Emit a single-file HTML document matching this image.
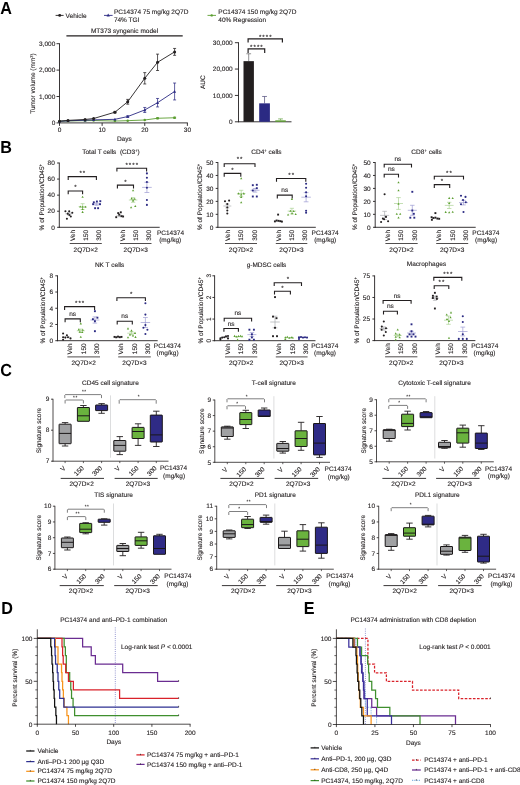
<!DOCTYPE html>
<html><head><meta charset="utf-8"><title>Figure</title>
<style>
html,body{margin:0;padding:0;background:#fff;}
svg{display:block;font-family:"Liberation Sans",sans-serif;text-rendering:geometricPrecision;}
</style></head><body>
<svg width="520" height="785" viewBox="0 0 520 785">
<rect width="520" height="785" fill="#ffffff"/>
<text transform="translate(0.30 13.90) scale(0.93 1)" font-size="17.4" font-weight="bold" fill="#000">A</text>
<line x1="55.60" y1="15.40" x2="63.60" y2="15.40" stroke="#231f20" stroke-width="0.9" />
<circle cx="59.70" cy="15.40" r="1.45" fill="#231f20"/>
<text x="65.60" y="17.70" font-size="6.5" fill="#231f20" stroke="#231f20" stroke-width="0.12" >Vehicle</text>
<line x1="104.00" y1="15.40" x2="112.60" y2="15.40" stroke="#2b2a83" stroke-width="0.9" />
<polygon points="108.20,13.60 106.60,16.48 109.80,16.48" fill="#2b2a83"/>
<text x="113.90" y="14.30" font-size="6.5" fill="#231f20" stroke="#231f20" stroke-width="0.12" >PC14374 75 mg/kg 2Q7D</text>
<text x="113.90" y="22.20" font-size="6.5" fill="#231f20" stroke="#231f20" stroke-width="0.12" >74% TGI</text>
<line x1="207.50" y1="15.40" x2="216.00" y2="15.40" stroke="#5c9e31" stroke-width="0.9" />
<circle cx="211.70" cy="15.40" r="1.2" fill="#5c9e31"/>
<text x="218.30" y="14.40" font-size="6.5" fill="#231f20" stroke="#231f20" stroke-width="0.12" >PC14374 150 mg/kg 2Q7D</text>
<text x="218.30" y="22.20" font-size="6.5" fill="#231f20" stroke="#231f20" stroke-width="0.12" >40% Regression</text>
<text x="124.50" y="32.60" font-size="6.5" fill="#231f20" text-anchor="middle" stroke="#231f20" stroke-width="0.12" >MT373 syngenic model</text>
<line x1="66.40" y1="35.80" x2="182.70" y2="35.80" stroke="#231f20" stroke-width="1.2" />
<line x1="59.50" y1="43.30" x2="59.50" y2="123.30" stroke="#231f20" stroke-width="0.9" />
<line x1="59.10" y1="122.90" x2="187.79" y2="122.90" stroke="#231f20" stroke-width="0.9" />
<line x1="56.50" y1="122.90" x2="59.50" y2="122.90" stroke="#231f20" stroke-width="0.9" />
<text x="55.30" y="125.10" font-size="6.5" fill="#231f20" text-anchor="end" stroke="#231f20" stroke-width="0.12" >0</text>
<line x1="56.50" y1="96.50" x2="59.50" y2="96.50" stroke="#231f20" stroke-width="0.9" />
<text x="55.30" y="98.70" font-size="6.5" fill="#231f20" text-anchor="end" stroke="#231f20" stroke-width="0.12" >1,000</text>
<line x1="56.50" y1="70.10" x2="59.50" y2="70.10" stroke="#231f20" stroke-width="0.9" />
<text x="55.30" y="72.30" font-size="6.5" fill="#231f20" text-anchor="end" stroke="#231f20" stroke-width="0.12" >2,000</text>
<line x1="56.50" y1="43.70" x2="59.50" y2="43.70" stroke="#231f20" stroke-width="0.9" />
<text x="55.30" y="45.90" font-size="6.5" fill="#231f20" text-anchor="end" stroke="#231f20" stroke-width="0.12" >3,000</text>
<line x1="59.50" y1="122.90" x2="59.50" y2="125.90" stroke="#231f20" stroke-width="0.9" />
<text x="59.50" y="131.50" font-size="6.5" fill="#231f20" text-anchor="middle" stroke="#231f20" stroke-width="0.12" >0</text>
<line x1="102.13" y1="122.90" x2="102.13" y2="125.90" stroke="#231f20" stroke-width="0.9" />
<text x="102.13" y="131.50" font-size="6.5" fill="#231f20" text-anchor="middle" stroke="#231f20" stroke-width="0.12" >10</text>
<line x1="144.76" y1="122.90" x2="144.76" y2="125.90" stroke="#231f20" stroke-width="0.9" />
<text x="144.76" y="131.50" font-size="6.5" fill="#231f20" text-anchor="middle" stroke="#231f20" stroke-width="0.12" >20</text>
<line x1="187.39" y1="122.90" x2="187.39" y2="125.90" stroke="#231f20" stroke-width="0.9" />
<text x="187.39" y="131.50" font-size="6.5" fill="#231f20" text-anchor="middle" stroke="#231f20" stroke-width="0.12" >30</text>
<text x="124.30" y="140.90" font-size="6.5" fill="#231f20" text-anchor="middle" stroke="#231f20" stroke-width="0.12" >Days</text>
<text x="35.00" y="83.50" font-size="6.5" fill="#231f20" text-anchor="middle" transform="rotate(-90 35.00 83.50)" stroke="#231f20" stroke-width="0.12" >Tumor volume (mm<tspan dy="-2.2" font-size="4">3</tspan><tspan dy="2.2">)</tspan></text>
<polyline points="59.50,121.32 68.03,120.92 85.08,120.66 93.60,120.52 114.92,121.05 127.71,120.66 144.76,120.00 157.55,118.28 174.60,117.75" fill="none" stroke="#5c9e31" stroke-width="0.9" />
<circle cx="59.50" cy="121.32" r="1.25" fill="#5c9e31"/>
<circle cx="68.03" cy="120.92" r="1.25" fill="#5c9e31"/>
<circle cx="85.08" cy="120.66" r="1.25" fill="#5c9e31"/>
<circle cx="93.60" cy="120.52" r="1.25" fill="#5c9e31"/>
<circle cx="114.92" cy="121.05" r="1.25" fill="#5c9e31"/>
<circle cx="127.71" cy="120.66" r="1.25" fill="#5c9e31"/>
<circle cx="144.76" cy="120.00" r="1.25" fill="#5c9e31"/>
<line x1="157.55" y1="117.75" x2="157.55" y2="118.81" stroke="#5c9e31" stroke-width="0.75" />
<line x1="156.05" y1="117.75" x2="159.05" y2="117.75" stroke="#5c9e31" stroke-width="0.75" />
<line x1="156.05" y1="118.81" x2="159.05" y2="118.81" stroke="#5c9e31" stroke-width="0.75" />
<circle cx="157.55" cy="118.28" r="1.25" fill="#5c9e31"/>
<line x1="174.60" y1="117.22" x2="174.60" y2="118.28" stroke="#5c9e31" stroke-width="0.75" />
<line x1="173.10" y1="117.22" x2="176.10" y2="117.22" stroke="#5c9e31" stroke-width="0.75" />
<line x1="173.10" y1="118.28" x2="176.10" y2="118.28" stroke="#5c9e31" stroke-width="0.75" />
<circle cx="174.60" cy="117.75" r="1.25" fill="#5c9e31"/>
<polyline points="59.50,121.32 68.03,120.79 85.08,120.26 93.60,119.86 114.92,119.34 127.71,116.56 144.76,109.96 157.55,102.70 174.60,91.48" fill="none" stroke="#2b2a83" stroke-width="0.9" />
<polygon points="59.50,119.82 58.00,122.52 61.00,122.52" fill="#2b2a83"/>
<polygon points="68.03,119.29 66.53,121.99 69.53,121.99" fill="#2b2a83"/>
<polygon points="85.08,118.76 83.58,121.46 86.58,121.46" fill="#2b2a83"/>
<polygon points="93.60,118.36 92.10,121.06 95.10,121.06" fill="#2b2a83"/>
<polygon points="114.92,117.84 113.42,120.54 116.42,120.54" fill="#2b2a83"/>
<line x1="127.71" y1="115.77" x2="127.71" y2="117.36" stroke="#2b2a83" stroke-width="0.75" />
<line x1="126.21" y1="115.77" x2="129.21" y2="115.77" stroke="#2b2a83" stroke-width="0.75" />
<line x1="126.21" y1="117.36" x2="129.21" y2="117.36" stroke="#2b2a83" stroke-width="0.75" />
<polygon points="127.71,115.06 126.21,117.76 129.21,117.76" fill="#2b2a83"/>
<line x1="144.76" y1="107.46" x2="144.76" y2="112.47" stroke="#2b2a83" stroke-width="0.75" />
<line x1="143.26" y1="107.46" x2="146.26" y2="107.46" stroke="#2b2a83" stroke-width="0.75" />
<line x1="143.26" y1="112.47" x2="146.26" y2="112.47" stroke="#2b2a83" stroke-width="0.75" />
<polygon points="144.76,108.46 143.26,111.16 146.26,111.16" fill="#2b2a83"/>
<line x1="157.55" y1="98.48" x2="157.55" y2="106.93" stroke="#2b2a83" stroke-width="0.75" />
<line x1="156.05" y1="98.48" x2="159.05" y2="98.48" stroke="#2b2a83" stroke-width="0.75" />
<line x1="156.05" y1="106.93" x2="159.05" y2="106.93" stroke="#2b2a83" stroke-width="0.75" />
<polygon points="157.55,101.20 156.05,103.90 159.05,103.90" fill="#2b2a83"/>
<line x1="174.60" y1="83.04" x2="174.60" y2="99.93" stroke="#2b2a83" stroke-width="0.75" />
<line x1="173.10" y1="83.04" x2="176.10" y2="83.04" stroke="#2b2a83" stroke-width="0.75" />
<line x1="173.10" y1="99.93" x2="176.10" y2="99.93" stroke="#2b2a83" stroke-width="0.75" />
<polygon points="174.60,89.98 173.10,92.68 176.10,92.68" fill="#2b2a83"/>
<polyline points="59.50,121.18 68.03,120.39 85.08,119.47 93.60,118.54 114.92,112.21 127.71,101.78 144.76,78.28 157.55,62.31 174.60,51.88" fill="none" stroke="#231f20" stroke-width="0.9" />
<circle cx="59.50" cy="121.18" r="1.5" fill="#231f20"/>
<circle cx="68.03" cy="120.39" r="1.5" fill="#231f20"/>
<circle cx="85.08" cy="119.47" r="1.5" fill="#231f20"/>
<circle cx="93.60" cy="118.54" r="1.5" fill="#231f20"/>
<line x1="114.92" y1="111.42" x2="114.92" y2="113.00" stroke="#231f20" stroke-width="0.75" />
<line x1="113.42" y1="111.42" x2="116.42" y2="111.42" stroke="#231f20" stroke-width="0.75" />
<line x1="113.42" y1="113.00" x2="116.42" y2="113.00" stroke="#231f20" stroke-width="0.75" />
<circle cx="114.92" cy="112.21" r="1.5" fill="#231f20"/>
<line x1="127.71" y1="99.40" x2="127.71" y2="104.16" stroke="#231f20" stroke-width="0.75" />
<line x1="126.21" y1="99.40" x2="129.21" y2="99.40" stroke="#231f20" stroke-width="0.75" />
<line x1="126.21" y1="104.16" x2="129.21" y2="104.16" stroke="#231f20" stroke-width="0.75" />
<circle cx="127.71" cy="101.78" r="1.5" fill="#231f20"/>
<line x1="144.76" y1="72.61" x2="144.76" y2="83.96" stroke="#231f20" stroke-width="0.75" />
<line x1="143.26" y1="72.61" x2="146.26" y2="72.61" stroke="#231f20" stroke-width="0.75" />
<line x1="143.26" y1="83.96" x2="146.26" y2="83.96" stroke="#231f20" stroke-width="0.75" />
<circle cx="144.76" cy="78.28" r="1.5" fill="#231f20"/>
<line x1="157.55" y1="54.13" x2="157.55" y2="70.50" stroke="#231f20" stroke-width="0.75" />
<line x1="156.05" y1="54.13" x2="159.05" y2="54.13" stroke="#231f20" stroke-width="0.75" />
<line x1="156.05" y1="70.50" x2="159.05" y2="70.50" stroke="#231f20" stroke-width="0.75" />
<circle cx="157.55" cy="62.31" r="1.5" fill="#231f20"/>
<line x1="174.60" y1="48.45" x2="174.60" y2="55.32" stroke="#231f20" stroke-width="0.75" />
<line x1="173.10" y1="48.45" x2="176.10" y2="48.45" stroke="#231f20" stroke-width="0.75" />
<line x1="173.10" y1="55.32" x2="176.10" y2="55.32" stroke="#231f20" stroke-width="0.75" />
<circle cx="174.60" cy="51.88" r="1.5" fill="#231f20"/>
<line x1="238.50" y1="42.29" x2="238.50" y2="122.20" stroke="#231f20" stroke-width="0.9" />
<line x1="238.10" y1="121.80" x2="291.50" y2="121.80" stroke="#231f20" stroke-width="0.9" />
<line x1="234.90" y1="121.80" x2="238.50" y2="121.80" stroke="#231f20" stroke-width="0.9" />
<text x="232.70" y="124.10" font-size="6.5" fill="#231f20" text-anchor="end" stroke="#231f20" stroke-width="0.12" >0</text>
<line x1="234.90" y1="95.43" x2="238.50" y2="95.43" stroke="#231f20" stroke-width="0.9" />
<text x="232.70" y="97.73" font-size="6.5" fill="#231f20" text-anchor="end" stroke="#231f20" stroke-width="0.12" >10,000</text>
<line x1="234.90" y1="69.06" x2="238.50" y2="69.06" stroke="#231f20" stroke-width="0.9" />
<text x="232.70" y="71.36" font-size="6.5" fill="#231f20" text-anchor="end" stroke="#231f20" stroke-width="0.12" >20,000</text>
<line x1="234.90" y1="42.69" x2="238.50" y2="42.69" stroke="#231f20" stroke-width="0.9" />
<text x="232.70" y="44.99" font-size="6.5" fill="#231f20" text-anchor="end" stroke="#231f20" stroke-width="0.12" >30,000</text>
<text x="205.00" y="82.20" font-size="6.5" fill="#231f20" text-anchor="middle" transform="rotate(-90 205.00 82.20)" stroke="#231f20" stroke-width="0.12" >AUC</text>
<line x1="248.70" y1="53.77" x2="248.70" y2="61.15" stroke="#6d6e70" stroke-width="0.75" />
<line x1="246.30" y1="53.77" x2="251.10" y2="53.77" stroke="#6d6e70" stroke-width="0.75" />
<rect x="243.50" y="61.15" width="10.40" height="60.65" fill="#231f20" stroke="none" stroke-width="0.5"/>
<line x1="264.55" y1="96.48" x2="264.55" y2="103.34" stroke="#55517f" stroke-width="0.75" />
<line x1="262.15" y1="96.48" x2="266.95" y2="96.48" stroke="#55517f" stroke-width="0.75" />
<rect x="259.20" y="103.34" width="10.70" height="18.46" fill="#2b2a83" stroke="none" stroke-width="0.5"/>
<line x1="280.55" y1="118.90" x2="280.55" y2="120.35" stroke="#6fa84f" stroke-width="0.75" />
<line x1="278.15" y1="118.90" x2="282.95" y2="118.90" stroke="#6fa84f" stroke-width="0.75" />
<rect x="275.30" y="120.35" width="10.50" height="1.45" fill="#5c9e31" stroke="none" stroke-width="0.5"/>
<polyline points="248.10,42.40 248.10,38.80 282.40,38.80 282.40,42.40" fill="none" stroke="#231f20" stroke-width="1.2" stroke-linejoin="miter"/>
<text x="265.77" y="38.95" font-size="6.1" font-weight="bold" fill="#231f20" text-anchor="middle" letter-spacing="1.05">****</text>
<polyline points="248.10,53.00 248.10,48.80 264.70,48.80 264.70,53.00" fill="none" stroke="#231f20" stroke-width="1.2" stroke-linejoin="miter"/>
<text x="256.92" y="48.95" font-size="6.1" font-weight="bold" fill="#231f20" text-anchor="middle" letter-spacing="1.05">****</text>
<text transform="translate(0.30 152.60) scale(0.93 1)" font-size="17.4" font-weight="bold" fill="#000">B</text>
<line x1="59.30" y1="162.55" x2="59.30" y2="227.75" stroke="#231f20" stroke-width="0.9" />
<line x1="58.85" y1="227.30" x2="159.70" y2="227.30" stroke="#231f20" stroke-width="0.9" />
<line x1="57.10" y1="227.30" x2="59.30" y2="227.30" stroke="#231f20" stroke-width="0.9" />
<text x="54.80" y="229.55" font-size="6.5" fill="#231f20" text-anchor="end" stroke="#231f20" stroke-width="0.12" >0</text>
<line x1="57.10" y1="211.23" x2="59.30" y2="211.23" stroke="#231f20" stroke-width="0.9" />
<text x="54.80" y="213.48" font-size="6.5" fill="#231f20" text-anchor="end" stroke="#231f20" stroke-width="0.12" >20</text>
<line x1="57.10" y1="195.15" x2="59.30" y2="195.15" stroke="#231f20" stroke-width="0.9" />
<text x="54.80" y="197.40" font-size="6.5" fill="#231f20" text-anchor="end" stroke="#231f20" stroke-width="0.12" >40</text>
<line x1="57.10" y1="179.07" x2="59.30" y2="179.07" stroke="#231f20" stroke-width="0.9" />
<text x="54.80" y="181.32" font-size="6.5" fill="#231f20" text-anchor="end" stroke="#231f20" stroke-width="0.12" >60</text>
<line x1="57.10" y1="163.00" x2="59.30" y2="163.00" stroke="#231f20" stroke-width="0.9" />
<text x="54.80" y="165.25" font-size="6.5" fill="#231f20" text-anchor="end" stroke="#231f20" stroke-width="0.12" >80</text>
<text x="111.00" y="153.80" font-size="6.5" fill="#231f20" text-anchor="middle" stroke="#231f20" stroke-width="0.12" >Total T cells&#160;&#160;(CD3<tspan dy="-2" font-size="4.2">+</tspan><tspan dy="2">)</tspan></text>
<text x="43.60" y="197.15" font-size="6.5" fill="#231f20" text-anchor="middle" transform="rotate(-90 43.60 197.15)" stroke="#231f20" stroke-width="0.12" >% of Population/CD45<tspan dy="-2" font-size="4.2">+</tspan></text>
<text x="74.55" y="229.90" font-size="6.5" fill="#231f20" text-anchor="end" transform="rotate(-90 74.55 229.90)" stroke="#231f20" stroke-width="0.12" >Veh</text>
<text x="87.95" y="229.90" font-size="6.5" fill="#231f20" text-anchor="end" transform="rotate(-90 87.95 229.90)" stroke="#231f20" stroke-width="0.12" >150</text>
<text x="101.45" y="229.90" font-size="6.5" fill="#231f20" text-anchor="end" transform="rotate(-90 101.45 229.90)" stroke="#231f20" stroke-width="0.12" >300</text>
<text x="125.35" y="229.90" font-size="6.5" fill="#231f20" text-anchor="end" transform="rotate(-90 125.35 229.90)" stroke="#231f20" stroke-width="0.12" >Veh</text>
<text x="137.95" y="229.90" font-size="6.5" fill="#231f20" text-anchor="end" transform="rotate(-90 137.95 229.90)" stroke="#231f20" stroke-width="0.12" >150</text>
<text x="151.15" y="229.90" font-size="6.5" fill="#231f20" text-anchor="end" transform="rotate(-90 151.15 229.90)" stroke="#231f20" stroke-width="0.12" >300</text>
<line x1="69.70" y1="243.50" x2="101.80" y2="243.50" stroke="#231f20" stroke-width="0.8" />
<line x1="120.00" y1="243.50" x2="151.50" y2="243.50" stroke="#231f20" stroke-width="0.8" />
<text x="85.75" y="251.70" font-size="6.5" fill="#231f20" text-anchor="middle" stroke="#231f20" stroke-width="0.12" >2Q7D×2</text>
<text x="135.75" y="251.70" font-size="6.5" fill="#231f20" text-anchor="middle" stroke="#231f20" stroke-width="0.12" >2Q7D×3</text>
<text x="156.90" y="234.70" font-size="6.5" fill="#231f20" stroke="#231f20" stroke-width="0.12" >PC14374</text>
<text x="159.20" y="241.50" font-size="6.5" fill="#231f20" stroke="#231f20" stroke-width="0.12" >(mg/kg)</text>
<line x1="65.30" y1="213.80" x2="72.30" y2="213.80" stroke="#a5a7aa" stroke-width="0.65" />
<line x1="68.80" y1="212.60" x2="68.80" y2="215.00" stroke="#a5a7aa" stroke-width="0.65" />
<line x1="67.05" y1="212.60" x2="70.55" y2="212.60" stroke="#a5a7aa" stroke-width="0.65" />
<line x1="67.05" y1="215.00" x2="70.55" y2="215.00" stroke="#a5a7aa" stroke-width="0.65" />
<circle cx="65.40" cy="211.20" r="1.05" fill="#231f20"/>
<circle cx="69.20" cy="211.20" r="1.05" fill="#231f20"/>
<circle cx="72.30" cy="212.80" r="1.05" fill="#231f20"/>
<circle cx="67.70" cy="213.80" r="1.05" fill="#231f20"/>
<circle cx="70.80" cy="216.50" r="1.05" fill="#231f20"/>
<circle cx="66.90" cy="218.80" r="1.05" fill="#231f20"/>
<circle cx="69.40" cy="215.00" r="1.05" fill="#231f20"/>
<line x1="78.60" y1="206.60" x2="86.60" y2="206.60" stroke="#a6cf8c" stroke-width="0.65" />
<line x1="82.60" y1="203.70" x2="82.60" y2="209.50" stroke="#a6cf8c" stroke-width="0.65" />
<line x1="80.60" y1="203.70" x2="84.60" y2="203.70" stroke="#a6cf8c" stroke-width="0.65" />
<line x1="80.60" y1="209.50" x2="84.60" y2="209.50" stroke="#a6cf8c" stroke-width="0.65" />
<polygon points="82.60,195.75 81.44,197.82 83.75,197.82" fill="#5c9e31"/>
<polygon points="80.30,205.44 79.14,207.52 81.45,207.52" fill="#5c9e31"/>
<polygon points="82.60,205.75 81.44,207.82 83.75,207.82" fill="#5c9e31"/>
<polygon points="85.40,205.75 84.24,207.82 86.55,207.82" fill="#5c9e31"/>
<polygon points="82.60,208.04 81.44,210.12 83.75,210.12" fill="#5c9e31"/>
<polygon points="82.60,210.84 81.44,212.92 83.75,212.92" fill="#5c9e31"/>
<line x1="92.60" y1="204.20" x2="100.60" y2="204.20" stroke="#9694cf" stroke-width="0.65" />
<line x1="96.60" y1="203.10" x2="96.60" y2="205.30" stroke="#9694cf" stroke-width="0.65" />
<line x1="94.60" y1="203.10" x2="98.60" y2="203.10" stroke="#9694cf" stroke-width="0.65" />
<line x1="94.60" y1="205.30" x2="98.60" y2="205.30" stroke="#9694cf" stroke-width="0.65" />
<rect x="92.86" y="201.36" width="1.89" height="1.89" fill="#2b2a83"/>
<rect x="95.95" y="200.56" width="1.89" height="1.89" fill="#2b2a83"/>
<rect x="99.36" y="200.25" width="1.89" height="1.89" fill="#2b2a83"/>
<rect x="92.16" y="203.25" width="1.89" height="1.89" fill="#2b2a83"/>
<rect x="99.06" y="203.25" width="1.89" height="1.89" fill="#2b2a83"/>
<rect x="94.16" y="207.25" width="1.89" height="1.89" fill="#2b2a83"/>
<rect x="97.16" y="207.25" width="1.89" height="1.89" fill="#2b2a83"/>
<line x1="116.20" y1="215.80" x2="123.20" y2="215.80" stroke="#a5a7aa" stroke-width="0.65" />
<line x1="119.70" y1="215.00" x2="119.70" y2="216.60" stroke="#a5a7aa" stroke-width="0.65" />
<line x1="117.95" y1="215.00" x2="121.45" y2="215.00" stroke="#a5a7aa" stroke-width="0.65" />
<line x1="117.95" y1="216.60" x2="121.45" y2="216.60" stroke="#a5a7aa" stroke-width="0.65" />
<rect x="117.26" y="212.16" width="1.89" height="1.89" fill="#231f20"/>
<rect x="119.86" y="211.36" width="1.89" height="1.89" fill="#231f20"/>
<rect x="118.26" y="213.66" width="1.89" height="1.89" fill="#231f20"/>
<rect x="115.26" y="216.25" width="1.89" height="1.89" fill="#231f20"/>
<rect x="120.56" y="215.25" width="1.89" height="1.89" fill="#231f20"/>
<rect x="122.16" y="215.56" width="1.89" height="1.89" fill="#231f20"/>
<line x1="128.85" y1="200.00" x2="137.35" y2="200.00" stroke="#a6cf8c" stroke-width="0.65" />
<line x1="133.10" y1="197.70" x2="133.10" y2="202.30" stroke="#a6cf8c" stroke-width="0.65" />
<line x1="130.97" y1="197.70" x2="135.22" y2="197.70" stroke="#a6cf8c" stroke-width="0.65" />
<line x1="130.97" y1="202.30" x2="135.22" y2="202.30" stroke="#a6cf8c" stroke-width="0.65" />
<polygon points="133.10,189.15 131.94,191.22 134.25,191.22" fill="#5c9e31"/>
<polygon points="131.60,197.34 130.44,199.42 132.75,199.42" fill="#5c9e31"/>
<polygon points="134.70,197.65 133.54,199.72 135.85,199.72" fill="#5c9e31"/>
<polygon points="133.10,199.34 131.94,201.42 134.25,201.42" fill="#5c9e31"/>
<polygon points="131.10,206.25 129.94,208.32 132.25,208.32" fill="#5c9e31"/>
<polygon points="135.30,205.04 134.14,207.12 136.45,207.12" fill="#5c9e31"/>
<line x1="142.05" y1="187.40" x2="151.75" y2="187.40" stroke="#9694cf" stroke-width="0.65" />
<line x1="146.90" y1="182.30" x2="146.90" y2="192.50" stroke="#9694cf" stroke-width="0.65" />
<line x1="144.47" y1="182.30" x2="149.33" y2="182.30" stroke="#9694cf" stroke-width="0.65" />
<line x1="144.47" y1="192.50" x2="149.33" y2="192.50" stroke="#9694cf" stroke-width="0.65" />
<circle cx="146.90" cy="173.40" r="1.05" fill="#2b2a83"/>
<circle cx="146.90" cy="177.70" r="1.05" fill="#2b2a83"/>
<circle cx="146.90" cy="182.00" r="1.05" fill="#2b2a83"/>
<circle cx="146.90" cy="187.70" r="1.05" fill="#2b2a83"/>
<circle cx="146.90" cy="200.00" r="1.05" fill="#2b2a83"/>
<circle cx="146.90" cy="204.90" r="1.05" fill="#2b2a83"/>
<polyline points="68.20,194.30 68.20,191.00 82.60,191.00 82.60,194.30" fill="none" stroke="#231f20" stroke-width="1.1" stroke-linejoin="miter"/>
<text x="75.93" y="189.45" font-size="6.1" font-weight="bold" fill="#231f20" text-anchor="middle" letter-spacing="1.05">*</text>
<polyline points="68.20,179.90 68.20,176.60 96.40,176.60 96.40,179.90" fill="none" stroke="#231f20" stroke-width="1.1" stroke-linejoin="miter"/>
<text x="82.83" y="175.05" font-size="6.1" font-weight="bold" fill="#231f20" text-anchor="middle" letter-spacing="1.05">**</text>
<polyline points="117.40,188.40 117.40,185.10 133.50,185.10 133.50,188.40" fill="none" stroke="#231f20" stroke-width="1.1" stroke-linejoin="miter"/>
<text x="125.98" y="183.55" font-size="6.1" font-weight="bold" fill="#231f20" text-anchor="middle" letter-spacing="1.05">*</text>
<polyline points="116.90,171.50 116.90,168.20 146.60,168.20 146.60,171.50" fill="none" stroke="#231f20" stroke-width="1.1" stroke-linejoin="miter"/>
<text x="132.28" y="166.65" font-size="6.1" font-weight="bold" fill="#231f20" text-anchor="middle" letter-spacing="1.05">****</text>
<line x1="217.90" y1="162.05" x2="217.90" y2="227.75" stroke="#231f20" stroke-width="0.9" />
<line x1="217.45" y1="227.30" x2="315.80" y2="227.30" stroke="#231f20" stroke-width="0.9" />
<line x1="215.70" y1="227.30" x2="217.90" y2="227.30" stroke="#231f20" stroke-width="0.9" />
<text x="213.40" y="229.55" font-size="6.5" fill="#231f20" text-anchor="end" stroke="#231f20" stroke-width="0.12" >0</text>
<line x1="215.70" y1="214.34" x2="217.90" y2="214.34" stroke="#231f20" stroke-width="0.9" />
<text x="213.40" y="216.59" font-size="6.5" fill="#231f20" text-anchor="end" stroke="#231f20" stroke-width="0.12" >10</text>
<line x1="215.70" y1="201.38" x2="217.90" y2="201.38" stroke="#231f20" stroke-width="0.9" />
<text x="213.40" y="203.63" font-size="6.5" fill="#231f20" text-anchor="end" stroke="#231f20" stroke-width="0.12" >20</text>
<line x1="215.70" y1="188.42" x2="217.90" y2="188.42" stroke="#231f20" stroke-width="0.9" />
<text x="213.40" y="190.67" font-size="6.5" fill="#231f20" text-anchor="end" stroke="#231f20" stroke-width="0.12" >30</text>
<line x1="215.70" y1="175.46" x2="217.90" y2="175.46" stroke="#231f20" stroke-width="0.9" />
<text x="213.40" y="177.71" font-size="6.5" fill="#231f20" text-anchor="end" stroke="#231f20" stroke-width="0.12" >40</text>
<line x1="215.70" y1="162.50" x2="217.90" y2="162.50" stroke="#231f20" stroke-width="0.9" />
<text x="213.40" y="164.75" font-size="6.5" fill="#231f20" text-anchor="end" stroke="#231f20" stroke-width="0.12" >50</text>
<text x="266.40" y="154.20" font-size="6.5" fill="#231f20" text-anchor="middle" stroke="#231f20" stroke-width="0.12" >CD4<tspan dy="-2" font-size="4.2">+</tspan><tspan dy="2"> cells</tspan></text>
<text x="201.70" y="196.90" font-size="6.5" fill="#231f20" text-anchor="middle" transform="rotate(-90 201.70 196.90)" stroke="#231f20" stroke-width="0.12" >% of Population/CD45<tspan dy="-2" font-size="4.2">+</tspan></text>
<text x="230.05" y="229.90" font-size="6.5" fill="#231f20" text-anchor="end" transform="rotate(-90 230.05 229.90)" stroke="#231f20" stroke-width="0.12" >Veh</text>
<text x="243.45" y="229.90" font-size="6.5" fill="#231f20" text-anchor="end" transform="rotate(-90 243.45 229.90)" stroke="#231f20" stroke-width="0.12" >150</text>
<text x="256.95" y="229.90" font-size="6.5" fill="#231f20" text-anchor="end" transform="rotate(-90 256.95 229.90)" stroke="#231f20" stroke-width="0.12" >300</text>
<text x="281.45" y="229.90" font-size="6.5" fill="#231f20" text-anchor="end" transform="rotate(-90 281.45 229.90)" stroke="#231f20" stroke-width="0.12" >Veh</text>
<text x="294.15" y="229.90" font-size="6.5" fill="#231f20" text-anchor="end" transform="rotate(-90 294.15 229.90)" stroke="#231f20" stroke-width="0.12" >150</text>
<text x="307.25" y="229.90" font-size="6.5" fill="#231f20" text-anchor="end" transform="rotate(-90 307.25 229.90)" stroke="#231f20" stroke-width="0.12" >300</text>
<line x1="225.00" y1="243.50" x2="257.00" y2="243.50" stroke="#231f20" stroke-width="0.8" />
<line x1="275.80" y1="243.50" x2="307.30" y2="243.50" stroke="#231f20" stroke-width="0.8" />
<text x="241.00" y="251.70" font-size="6.5" fill="#231f20" text-anchor="middle" stroke="#231f20" stroke-width="0.12" >2Q7D×2</text>
<text x="291.55" y="251.70" font-size="6.5" fill="#231f20" text-anchor="middle" stroke="#231f20" stroke-width="0.12" >2Q7D×3</text>
<text x="311.60" y="234.70" font-size="6.5" fill="#231f20" stroke="#231f20" stroke-width="0.12" >PC14374</text>
<text x="314.20" y="241.50" font-size="6.5" fill="#231f20" stroke="#231f20" stroke-width="0.12" >(mg/kg)</text>
<line x1="223.30" y1="206.00" x2="231.30" y2="206.00" stroke="#a5a7aa" stroke-width="0.65" />
<line x1="227.30" y1="204.10" x2="227.30" y2="207.90" stroke="#a5a7aa" stroke-width="0.65" />
<line x1="225.30" y1="204.10" x2="229.30" y2="204.10" stroke="#a5a7aa" stroke-width="0.65" />
<line x1="225.30" y1="207.90" x2="229.30" y2="207.90" stroke="#a5a7aa" stroke-width="0.65" />
<circle cx="225.00" cy="201.20" r="1.05" fill="#231f20"/>
<circle cx="229.10" cy="200.60" r="1.05" fill="#231f20"/>
<circle cx="227.30" cy="204.00" r="1.05" fill="#231f20"/>
<circle cx="227.30" cy="207.50" r="1.05" fill="#231f20"/>
<circle cx="227.30" cy="210.50" r="1.05" fill="#231f20"/>
<circle cx="227.30" cy="213.50" r="1.05" fill="#231f20"/>
<line x1="236.95" y1="193.50" x2="245.45" y2="193.50" stroke="#a6cf8c" stroke-width="0.65" />
<line x1="241.20" y1="190.30" x2="241.20" y2="196.70" stroke="#a6cf8c" stroke-width="0.65" />
<line x1="239.07" y1="190.30" x2="243.32" y2="190.30" stroke="#a6cf8c" stroke-width="0.65" />
<line x1="239.07" y1="196.70" x2="243.32" y2="196.70" stroke="#a6cf8c" stroke-width="0.65" />
<polygon points="241.20,177.15 240.04,179.22 242.35,179.22" fill="#5c9e31"/>
<polygon points="238.60,192.34 237.44,194.42 239.75,194.42" fill="#5c9e31"/>
<polygon points="243.80,192.34 242.64,194.42 244.95,194.42" fill="#5c9e31"/>
<polygon points="241.20,193.34 240.04,195.42 242.35,195.42" fill="#5c9e31"/>
<polygon points="241.20,195.84 240.04,197.92 242.35,197.92" fill="#5c9e31"/>
<polygon points="241.20,201.15 240.04,203.22 242.35,203.22" fill="#5c9e31"/>
<line x1="250.50" y1="190.30" x2="259.50" y2="190.30" stroke="#9694cf" stroke-width="0.65" />
<line x1="255.00" y1="188.50" x2="255.00" y2="192.10" stroke="#9694cf" stroke-width="0.65" />
<line x1="252.75" y1="188.50" x2="257.25" y2="188.50" stroke="#9694cf" stroke-width="0.65" />
<line x1="252.75" y1="192.10" x2="257.25" y2="192.10" stroke="#9694cf" stroke-width="0.65" />
<rect x="251.86" y="184.25" width="1.89" height="1.89" fill="#2b2a83"/>
<rect x="255.86" y="183.86" width="1.89" height="1.89" fill="#2b2a83"/>
<rect x="255.86" y="187.25" width="1.89" height="1.89" fill="#2b2a83"/>
<rect x="251.86" y="189.56" width="1.89" height="1.89" fill="#2b2a83"/>
<rect x="251.86" y="195.56" width="1.89" height="1.89" fill="#2b2a83"/>
<rect x="255.86" y="195.56" width="1.89" height="1.89" fill="#2b2a83"/>
<line x1="274.60" y1="221.00" x2="281.60" y2="221.00" stroke="#a5a7aa" stroke-width="0.65" />
<rect x="277.16" y="213.66" width="1.89" height="1.89" fill="#231f20"/>
<rect x="273.96" y="220.46" width="1.89" height="1.89" fill="#231f20"/>
<rect x="275.66" y="219.56" width="1.89" height="1.89" fill="#231f20"/>
<rect x="277.56" y="219.86" width="1.89" height="1.89" fill="#231f20"/>
<rect x="279.36" y="220.25" width="1.89" height="1.89" fill="#231f20"/>
<rect x="280.96" y="220.66" width="1.89" height="1.89" fill="#231f20"/>
<line x1="287.65" y1="211.10" x2="296.15" y2="211.10" stroke="#a6cf8c" stroke-width="0.65" />
<line x1="291.90" y1="208.30" x2="291.90" y2="213.90" stroke="#a6cf8c" stroke-width="0.65" />
<line x1="289.77" y1="208.30" x2="294.02" y2="208.30" stroke="#a6cf8c" stroke-width="0.65" />
<line x1="289.77" y1="213.90" x2="294.02" y2="213.90" stroke="#a6cf8c" stroke-width="0.65" />
<polygon points="291.90,198.04 290.75,200.12 293.05,200.12" fill="#5c9e31"/>
<polygon points="290.40,209.65 289.25,211.72 291.55,211.72" fill="#5c9e31"/>
<polygon points="293.70,210.04 292.55,212.12 294.85,212.12" fill="#5c9e31"/>
<polygon points="288.10,213.44 286.94,215.52 289.25,215.52" fill="#5c9e31"/>
<polygon points="292.10,212.25 290.94,214.32 293.25,214.32" fill="#5c9e31"/>
<polygon points="295.70,213.04 294.55,215.12 296.85,215.12" fill="#5c9e31"/>
<line x1="301.35" y1="197.20" x2="310.85" y2="197.20" stroke="#9694cf" stroke-width="0.65" />
<line x1="306.10" y1="192.60" x2="306.10" y2="201.80" stroke="#9694cf" stroke-width="0.65" />
<line x1="303.73" y1="192.60" x2="308.48" y2="192.60" stroke="#9694cf" stroke-width="0.65" />
<line x1="303.73" y1="201.80" x2="308.48" y2="201.80" stroke="#9694cf" stroke-width="0.65" />
<circle cx="306.10" cy="183.80" r="1.05" fill="#2b2a83"/>
<circle cx="306.10" cy="187.70" r="1.05" fill="#2b2a83"/>
<circle cx="306.10" cy="192.30" r="1.05" fill="#2b2a83"/>
<circle cx="306.10" cy="196.20" r="1.05" fill="#2b2a83"/>
<circle cx="306.10" cy="210.80" r="1.05" fill="#2b2a83"/>
<circle cx="306.10" cy="212.80" r="1.05" fill="#2b2a83"/>
<polyline points="224.20,176.70 224.20,173.40 240.80,173.40 240.80,176.70" fill="none" stroke="#231f20" stroke-width="1.1" stroke-linejoin="miter"/>
<text x="233.03" y="171.85" font-size="6.1" font-weight="bold" fill="#231f20" text-anchor="middle" letter-spacing="1.05">*</text>
<polyline points="224.20,167.10 224.20,163.80 255.00,163.80 255.00,167.10" fill="none" stroke="#231f20" stroke-width="1.1" stroke-linejoin="miter"/>
<text x="240.12" y="161.25" font-size="6.1" font-weight="bold" fill="#231f20" text-anchor="middle" letter-spacing="1.05">**</text>
<polyline points="277.30,198.40 277.30,195.10 292.20,195.10 292.20,198.40" fill="none" stroke="#231f20" stroke-width="1.1" stroke-linejoin="miter"/>
<text x="284.75" y="192.10" font-size="6.5" fill="#231f20" text-anchor="middle" stroke="#231f20" stroke-width="0.12" >ns</text>
<polyline points="276.50,181.80 276.50,178.50 305.80,178.50 305.80,181.80" fill="none" stroke="#231f20" stroke-width="1.1" stroke-linejoin="miter"/>
<text x="291.67" y="176.95" font-size="6.1" font-weight="bold" fill="#231f20" text-anchor="middle" letter-spacing="1.05">**</text>
<line x1="375.20" y1="162.05" x2="375.20" y2="227.75" stroke="#231f20" stroke-width="0.9" />
<line x1="374.75" y1="227.30" x2="475.70" y2="227.30" stroke="#231f20" stroke-width="0.9" />
<line x1="373.00" y1="227.30" x2="375.20" y2="227.30" stroke="#231f20" stroke-width="0.9" />
<text x="370.70" y="229.55" font-size="6.5" fill="#231f20" text-anchor="end" stroke="#231f20" stroke-width="0.12" >0</text>
<line x1="373.00" y1="214.34" x2="375.20" y2="214.34" stroke="#231f20" stroke-width="0.9" />
<text x="370.70" y="216.59" font-size="6.5" fill="#231f20" text-anchor="end" stroke="#231f20" stroke-width="0.12" >10</text>
<line x1="373.00" y1="201.38" x2="375.20" y2="201.38" stroke="#231f20" stroke-width="0.9" />
<text x="370.70" y="203.63" font-size="6.5" fill="#231f20" text-anchor="end" stroke="#231f20" stroke-width="0.12" >20</text>
<line x1="373.00" y1="188.42" x2="375.20" y2="188.42" stroke="#231f20" stroke-width="0.9" />
<text x="370.70" y="190.67" font-size="6.5" fill="#231f20" text-anchor="end" stroke="#231f20" stroke-width="0.12" >30</text>
<line x1="373.00" y1="175.46" x2="375.20" y2="175.46" stroke="#231f20" stroke-width="0.9" />
<text x="370.70" y="177.71" font-size="6.5" fill="#231f20" text-anchor="end" stroke="#231f20" stroke-width="0.12" >40</text>
<line x1="373.00" y1="162.50" x2="375.20" y2="162.50" stroke="#231f20" stroke-width="0.9" />
<text x="370.70" y="164.75" font-size="6.5" fill="#231f20" text-anchor="end" stroke="#231f20" stroke-width="0.12" >50</text>
<text x="426.50" y="154.40" font-size="6.5" fill="#231f20" text-anchor="middle" stroke="#231f20" stroke-width="0.12" >CD8<tspan dy="-2" font-size="4.2">+</tspan><tspan dy="2"> cells</tspan></text>
<text x="357.30" y="196.90" font-size="6.5" fill="#231f20" text-anchor="middle" transform="rotate(-90 357.30 196.90)" stroke="#231f20" stroke-width="0.12" >% of Population/CD45<tspan dy="-2" font-size="4.2">+</tspan></text>
<text x="389.95" y="229.90" font-size="6.5" fill="#231f20" text-anchor="end" transform="rotate(-90 389.95 229.90)" stroke="#231f20" stroke-width="0.12" >Veh</text>
<text x="403.45" y="229.90" font-size="6.5" fill="#231f20" text-anchor="end" transform="rotate(-90 403.45 229.90)" stroke="#231f20" stroke-width="0.12" >150</text>
<text x="417.15" y="229.90" font-size="6.5" fill="#231f20" text-anchor="end" transform="rotate(-90 417.15 229.90)" stroke="#231f20" stroke-width="0.12" >300</text>
<text x="441.45" y="229.90" font-size="6.5" fill="#231f20" text-anchor="end" transform="rotate(-90 441.45 229.90)" stroke="#231f20" stroke-width="0.12" >Veh</text>
<text x="454.85" y="229.90" font-size="6.5" fill="#231f20" text-anchor="end" transform="rotate(-90 454.85 229.90)" stroke="#231f20" stroke-width="0.12" >150</text>
<text x="468.05" y="229.90" font-size="6.5" fill="#231f20" text-anchor="end" transform="rotate(-90 468.05 229.90)" stroke="#231f20" stroke-width="0.12" >300</text>
<line x1="385.40" y1="243.50" x2="417.70" y2="243.50" stroke="#231f20" stroke-width="0.8" />
<line x1="436.20" y1="243.50" x2="468.20" y2="243.50" stroke="#231f20" stroke-width="0.8" />
<text x="401.55" y="251.70" font-size="6.5" fill="#231f20" text-anchor="middle" stroke="#231f20" stroke-width="0.12" >2Q7D×2</text>
<text x="452.20" y="251.70" font-size="6.5" fill="#231f20" text-anchor="middle" stroke="#231f20" stroke-width="0.12" >2Q7D×3</text>
<text x="472.30" y="234.70" font-size="6.5" fill="#231f20" stroke="#231f20" stroke-width="0.12" >PC14374</text>
<text x="475.10" y="241.50" font-size="6.5" fill="#231f20" stroke="#231f20" stroke-width="0.12" >(mg/kg)</text>
<line x1="380.00" y1="215.40" x2="389.20" y2="215.40" stroke="#a5a7aa" stroke-width="0.65" />
<line x1="384.60" y1="211.30" x2="384.60" y2="219.50" stroke="#a5a7aa" stroke-width="0.65" />
<line x1="382.30" y1="211.30" x2="386.90" y2="211.30" stroke="#a5a7aa" stroke-width="0.65" />
<line x1="382.30" y1="219.50" x2="386.90" y2="219.50" stroke="#a5a7aa" stroke-width="0.65" />
<circle cx="384.60" cy="194.30" r="1.05" fill="#231f20"/>
<circle cx="381.10" cy="222.00" r="1.05" fill="#231f20"/>
<circle cx="384.10" cy="219.20" r="1.05" fill="#231f20"/>
<circle cx="386.00" cy="216.90" r="1.05" fill="#231f20"/>
<circle cx="382.90" cy="218.50" r="1.05" fill="#231f20"/>
<circle cx="388.10" cy="221.20" r="1.05" fill="#231f20"/>
<line x1="394.00" y1="203.50" x2="403.00" y2="203.50" stroke="#a6cf8c" stroke-width="0.65" />
<line x1="398.50" y1="197.60" x2="398.50" y2="209.40" stroke="#a6cf8c" stroke-width="0.65" />
<line x1="396.25" y1="197.60" x2="400.75" y2="197.60" stroke="#a6cf8c" stroke-width="0.65" />
<line x1="396.25" y1="209.40" x2="400.75" y2="209.40" stroke="#a6cf8c" stroke-width="0.65" />
<polygon points="398.50,181.15 397.35,183.22 399.65,183.22" fill="#5c9e31"/>
<polygon points="398.50,189.15 397.35,191.22 399.65,191.22" fill="#5c9e31"/>
<polygon points="398.50,202.65 397.35,204.72 399.65,204.72" fill="#5c9e31"/>
<polygon points="396.80,212.65 395.65,214.72 397.95,214.72" fill="#5c9e31"/>
<polygon points="400.20,212.65 399.05,214.72 401.35,214.72" fill="#5c9e31"/>
<polygon points="398.50,216.54 397.35,218.62 399.65,218.62" fill="#5c9e31"/>
<line x1="407.80" y1="210.30" x2="416.80" y2="210.30" stroke="#9694cf" stroke-width="0.65" />
<line x1="412.30" y1="205.30" x2="412.30" y2="215.30" stroke="#9694cf" stroke-width="0.65" />
<line x1="410.05" y1="205.30" x2="414.55" y2="205.30" stroke="#9694cf" stroke-width="0.65" />
<line x1="410.05" y1="215.30" x2="414.55" y2="215.30" stroke="#9694cf" stroke-width="0.65" />
<rect x="411.36" y="190.86" width="1.89" height="1.89" fill="#2b2a83"/>
<rect x="411.36" y="209.56" width="1.89" height="1.89" fill="#2b2a83"/>
<rect x="412.86" y="212.86" width="1.89" height="1.89" fill="#2b2a83"/>
<rect x="409.36" y="216.75" width="1.89" height="1.89" fill="#2b2a83"/>
<rect x="413.36" y="216.75" width="1.89" height="1.89" fill="#2b2a83"/>
<line x1="431.90" y1="218.00" x2="438.90" y2="218.00" stroke="#a5a7aa" stroke-width="0.65" />
<rect x="434.45" y="212.16" width="1.89" height="1.89" fill="#231f20"/>
<rect x="430.65" y="216.25" width="1.89" height="1.89" fill="#231f20"/>
<rect x="432.45" y="217.06" width="1.89" height="1.89" fill="#231f20"/>
<rect x="434.45" y="216.66" width="1.89" height="1.89" fill="#231f20"/>
<rect x="436.45" y="217.66" width="1.89" height="1.89" fill="#231f20"/>
<rect x="438.25" y="217.86" width="1.89" height="1.89" fill="#231f20"/>
<rect x="430.95" y="218.86" width="1.89" height="1.89" fill="#231f20"/>
<line x1="444.80" y1="205.40" x2="453.60" y2="205.40" stroke="#a6cf8c" stroke-width="0.65" />
<line x1="449.20" y1="202.30" x2="449.20" y2="208.50" stroke="#a6cf8c" stroke-width="0.65" />
<line x1="447.00" y1="202.30" x2="451.40" y2="202.30" stroke="#a6cf8c" stroke-width="0.65" />
<line x1="447.00" y1="208.50" x2="451.40" y2="208.50" stroke="#a6cf8c" stroke-width="0.65" />
<polygon points="449.20,196.84 448.05,198.92 450.35,198.92" fill="#5c9e31"/>
<polygon points="452.70,197.04 451.55,199.12 453.85,199.12" fill="#5c9e31"/>
<polygon points="449.20,201.94 448.05,204.02 450.35,204.02" fill="#5c9e31"/>
<polygon points="445.70,210.84 444.55,212.92 446.85,212.92" fill="#5c9e31"/>
<polygon points="449.20,211.15 448.05,213.22 450.35,213.22" fill="#5c9e31"/>
<polygon points="452.70,210.65 451.55,212.72 453.85,212.72" fill="#5c9e31"/>
<line x1="459.00" y1="202.60" x2="468.00" y2="202.60" stroke="#9694cf" stroke-width="0.65" />
<line x1="463.50" y1="200.30" x2="463.50" y2="204.90" stroke="#9694cf" stroke-width="0.65" />
<line x1="461.25" y1="200.30" x2="465.75" y2="200.30" stroke="#9694cf" stroke-width="0.65" />
<line x1="461.25" y1="204.90" x2="465.75" y2="204.90" stroke="#9694cf" stroke-width="0.65" />
<circle cx="461.00" cy="195.70" r="1.05" fill="#2b2a83"/>
<circle cx="465.50" cy="196.90" r="1.05" fill="#2b2a83"/>
<circle cx="463.00" cy="200.00" r="1.05" fill="#2b2a83"/>
<circle cx="465.80" cy="202.30" r="1.05" fill="#2b2a83"/>
<circle cx="461.00" cy="204.20" r="1.05" fill="#2b2a83"/>
<circle cx="463.50" cy="212.00" r="1.05" fill="#2b2a83"/>
<polyline points="384.20,177.50 384.20,174.20 398.50,174.20 398.50,177.50" fill="none" stroke="#231f20" stroke-width="1.1" stroke-linejoin="miter"/>
<text x="391.35" y="171.20" font-size="6.5" fill="#231f20" text-anchor="middle" stroke="#231f20" stroke-width="0.12" >ns</text>
<polyline points="384.20,167.50 384.20,164.20 411.50,164.20 411.50,167.50" fill="none" stroke="#231f20" stroke-width="1.1" stroke-linejoin="miter"/>
<text x="397.85" y="161.20" font-size="6.5" fill="#231f20" text-anchor="middle" stroke="#231f20" stroke-width="0.12" >ns</text>
<polyline points="434.30,187.90 434.30,184.60 449.70,184.60 449.70,187.90" fill="none" stroke="#231f20" stroke-width="1.1" stroke-linejoin="miter"/>
<text x="442.52" y="183.05" font-size="6.1" font-weight="bold" fill="#231f20" text-anchor="middle" letter-spacing="1.05">*</text>
<polyline points="434.30,179.50 434.30,176.20 463.50,176.20 463.50,179.50" fill="none" stroke="#231f20" stroke-width="1.1" stroke-linejoin="miter"/>
<text x="449.42" y="174.65" font-size="6.1" font-weight="bold" fill="#231f20" text-anchor="middle" letter-spacing="1.05">**</text>
<line x1="57.50" y1="275.35" x2="57.50" y2="341.15" stroke="#231f20" stroke-width="0.9" />
<line x1="57.05" y1="340.70" x2="157.70" y2="340.70" stroke="#231f20" stroke-width="0.9" />
<line x1="55.30" y1="340.70" x2="57.50" y2="340.70" stroke="#231f20" stroke-width="0.9" />
<text x="53.00" y="342.95" font-size="6.5" fill="#231f20" text-anchor="end" stroke="#231f20" stroke-width="0.12" >0</text>
<line x1="55.30" y1="324.48" x2="57.50" y2="324.48" stroke="#231f20" stroke-width="0.9" />
<text x="53.00" y="326.73" font-size="6.5" fill="#231f20" text-anchor="end" stroke="#231f20" stroke-width="0.12" >2</text>
<line x1="55.30" y1="308.25" x2="57.50" y2="308.25" stroke="#231f20" stroke-width="0.9" />
<text x="53.00" y="310.50" font-size="6.5" fill="#231f20" text-anchor="end" stroke="#231f20" stroke-width="0.12" >4</text>
<line x1="55.30" y1="292.02" x2="57.50" y2="292.02" stroke="#231f20" stroke-width="0.9" />
<text x="53.00" y="294.27" font-size="6.5" fill="#231f20" text-anchor="end" stroke="#231f20" stroke-width="0.12" >6</text>
<line x1="55.30" y1="275.80" x2="57.50" y2="275.80" stroke="#231f20" stroke-width="0.9" />
<text x="53.00" y="278.05" font-size="6.5" fill="#231f20" text-anchor="end" stroke="#231f20" stroke-width="0.12" >8</text>
<text x="109.60" y="266.60" font-size="6.5" fill="#231f20" text-anchor="middle" stroke="#231f20" stroke-width="0.12" >NK T cells</text>
<text x="45.20" y="310.25" font-size="6.5" fill="#231f20" text-anchor="middle" transform="rotate(-90 45.20 310.25)" stroke="#231f20" stroke-width="0.12" >% of Population/CD45<tspan dy="-2" font-size="4.2">+</tspan></text>
<text x="71.95" y="343.30" font-size="6.5" fill="#231f20" text-anchor="end" transform="rotate(-90 71.95 343.30)" stroke="#231f20" stroke-width="0.12" >Veh</text>
<text x="85.75" y="343.30" font-size="6.5" fill="#231f20" text-anchor="end" transform="rotate(-90 85.75 343.30)" stroke="#231f20" stroke-width="0.12" >150</text>
<text x="99.45" y="343.30" font-size="6.5" fill="#231f20" text-anchor="end" transform="rotate(-90 99.45 343.30)" stroke="#231f20" stroke-width="0.12" >300</text>
<text x="123.05" y="343.30" font-size="6.5" fill="#231f20" text-anchor="end" transform="rotate(-90 123.05 343.30)" stroke="#231f20" stroke-width="0.12" >Veh</text>
<text x="136.85" y="343.30" font-size="6.5" fill="#231f20" text-anchor="end" transform="rotate(-90 136.85 343.30)" stroke="#231f20" stroke-width="0.12" >150</text>
<text x="150.25" y="343.30" font-size="6.5" fill="#231f20" text-anchor="end" transform="rotate(-90 150.25 343.30)" stroke="#231f20" stroke-width="0.12" >300</text>
<line x1="67.40" y1="356.90" x2="100.00" y2="356.90" stroke="#231f20" stroke-width="0.8" />
<line x1="118.20" y1="356.90" x2="150.80" y2="356.90" stroke="#231f20" stroke-width="0.8" />
<text x="83.70" y="365.10" font-size="6.5" fill="#231f20" text-anchor="middle" stroke="#231f20" stroke-width="0.12" >2Q7D×2</text>
<text x="134.50" y="365.10" font-size="6.5" fill="#231f20" text-anchor="middle" stroke="#231f20" stroke-width="0.12" >2Q7D×3</text>
<text x="153.80" y="348.10" font-size="6.5" fill="#231f20" stroke="#231f20" stroke-width="0.12" >PC14374</text>
<text x="156.60" y="354.90" font-size="6.5" fill="#231f20" stroke="#231f20" stroke-width="0.12" >(mg/kg)</text>
<line x1="63.00" y1="337.00" x2="70.00" y2="337.00" stroke="#a5a7aa" stroke-width="0.65" />
<circle cx="63.10" cy="333.50" r="1.05" fill="#231f20"/>
<circle cx="66.90" cy="335.20" r="1.05" fill="#231f20"/>
<circle cx="63.10" cy="337.20" r="1.05" fill="#231f20"/>
<circle cx="65.30" cy="337.60" r="1.05" fill="#231f20"/>
<circle cx="68.00" cy="337.20" r="1.05" fill="#231f20"/>
<circle cx="70.50" cy="338.40" r="1.05" fill="#231f20"/>
<circle cx="63.10" cy="339.80" r="1.05" fill="#231f20"/>
<line x1="76.80" y1="330.80" x2="84.80" y2="330.80" stroke="#a6cf8c" stroke-width="0.65" />
<line x1="80.80" y1="329.10" x2="80.80" y2="332.50" stroke="#a6cf8c" stroke-width="0.65" />
<line x1="78.80" y1="329.10" x2="82.80" y2="329.10" stroke="#a6cf8c" stroke-width="0.65" />
<line x1="78.80" y1="332.50" x2="82.80" y2="332.50" stroke="#a6cf8c" stroke-width="0.65" />
<polygon points="80.80,322.35 79.64,324.42 81.95,324.42" fill="#5c9e31"/>
<polygon points="78.80,328.35 77.64,330.42 79.95,330.42" fill="#5c9e31"/>
<polygon points="82.80,328.65 81.64,330.72 83.95,330.72" fill="#5c9e31"/>
<polygon points="79.80,330.65 78.64,332.72 80.95,332.72" fill="#5c9e31"/>
<polygon points="82.30,331.05 81.14,333.12 83.45,333.12" fill="#5c9e31"/>
<polygon points="80.80,335.75 79.64,337.82 81.95,337.82" fill="#5c9e31"/>
<line x1="90.40" y1="320.00" x2="99.40" y2="320.00" stroke="#9694cf" stroke-width="0.65" />
<line x1="94.90" y1="316.90" x2="94.90" y2="323.10" stroke="#9694cf" stroke-width="0.65" />
<line x1="92.65" y1="316.90" x2="97.15" y2="316.90" stroke="#9694cf" stroke-width="0.65" />
<line x1="92.65" y1="323.10" x2="97.15" y2="323.10" stroke="#9694cf" stroke-width="0.65" />
<rect x="93.96" y="310.25" width="1.89" height="1.89" fill="#2b2a83"/>
<rect x="96.46" y="316.75" width="1.89" height="1.89" fill="#2b2a83"/>
<rect x="91.96" y="318.25" width="1.89" height="1.89" fill="#2b2a83"/>
<rect x="93.96" y="320.25" width="1.89" height="1.89" fill="#2b2a83"/>
<rect x="93.96" y="330.25" width="1.89" height="1.89" fill="#2b2a83"/>
<line x1="114.50" y1="337.00" x2="121.50" y2="337.00" stroke="#a5a7aa" stroke-width="0.65" />
<rect x="113.56" y="335.95" width="1.89" height="1.89" fill="#231f20"/>
<rect x="115.26" y="336.36" width="1.89" height="1.89" fill="#231f20"/>
<rect x="117.06" y="335.66" width="1.89" height="1.89" fill="#231f20"/>
<rect x="118.86" y="336.25" width="1.89" height="1.89" fill="#231f20"/>
<rect x="120.56" y="335.95" width="1.89" height="1.89" fill="#231f20"/>
<line x1="127.25" y1="333.20" x2="135.75" y2="333.20" stroke="#a6cf8c" stroke-width="0.65" />
<line x1="131.50" y1="331.70" x2="131.50" y2="334.70" stroke="#a6cf8c" stroke-width="0.65" />
<line x1="129.38" y1="331.70" x2="133.62" y2="331.70" stroke="#a6cf8c" stroke-width="0.65" />
<line x1="129.38" y1="334.70" x2="133.62" y2="334.70" stroke="#a6cf8c" stroke-width="0.65" />
<polygon points="128.00,327.35 126.84,329.42 129.16,329.42" fill="#5c9e31"/>
<polygon points="131.50,329.35 130.34,331.42 132.66,331.42" fill="#5c9e31"/>
<polygon points="135.00,331.85 133.84,333.92 136.16,333.92" fill="#5c9e31"/>
<polygon points="130.00,333.35 128.84,335.42 131.16,335.42" fill="#5c9e31"/>
<polygon points="128.00,336.25 126.84,338.32 129.16,338.32" fill="#5c9e31"/>
<polygon points="133.00,334.35 131.84,336.42 134.16,336.42" fill="#5c9e31"/>
<polygon points="135.50,335.85 134.34,337.92 136.66,337.92" fill="#5c9e31"/>
<line x1="140.65" y1="322.50" x2="150.15" y2="322.50" stroke="#9694cf" stroke-width="0.65" />
<line x1="145.40" y1="317.50" x2="145.40" y2="327.50" stroke="#9694cf" stroke-width="0.65" />
<line x1="143.03" y1="317.50" x2="147.78" y2="317.50" stroke="#9694cf" stroke-width="0.65" />
<line x1="143.03" y1="327.50" x2="147.78" y2="327.50" stroke="#9694cf" stroke-width="0.65" />
<circle cx="145.40" cy="303.20" r="1.05" fill="#2b2a83"/>
<circle cx="145.40" cy="314.60" r="1.05" fill="#2b2a83"/>
<circle cx="145.40" cy="325.10" r="1.05" fill="#2b2a83"/>
<circle cx="143.40" cy="327.80" r="1.05" fill="#2b2a83"/>
<circle cx="147.40" cy="329.70" r="1.05" fill="#2b2a83"/>
<circle cx="145.40" cy="334.00" r="1.05" fill="#2b2a83"/>
<polyline points="65.10,322.20 65.10,318.90 80.30,318.90 80.30,322.20" fill="none" stroke="#231f20" stroke-width="1.1" stroke-linejoin="miter"/>
<text x="72.70" y="315.90" font-size="6.5" fill="#231f20" text-anchor="middle" stroke="#231f20" stroke-width="0.12" >ns</text>
<polyline points="64.60,309.90 64.60,306.60 94.60,306.60 94.60,309.90" fill="none" stroke="#231f20" stroke-width="1.1" stroke-linejoin="miter"/>
<text x="80.12" y="305.06" font-size="6.1" font-weight="bold" fill="#231f20" text-anchor="middle" letter-spacing="1.05">***</text>
<polyline points="117.20,324.50 117.20,321.20 132.30,321.20 132.30,324.50" fill="none" stroke="#231f20" stroke-width="1.1" stroke-linejoin="miter"/>
<text x="124.75" y="318.20" font-size="6.5" fill="#231f20" text-anchor="middle" stroke="#231f20" stroke-width="0.12" >ns</text>
<polyline points="116.90,301.00 116.90,297.70 145.40,297.70 145.40,301.00" fill="none" stroke="#231f20" stroke-width="1.1" stroke-linejoin="miter"/>
<text x="131.68" y="296.16" font-size="6.1" font-weight="bold" fill="#231f20" text-anchor="middle" letter-spacing="1.05">*</text>
<line x1="214.60" y1="275.35" x2="214.60" y2="341.15" stroke="#231f20" stroke-width="0.9" />
<line x1="214.15" y1="340.70" x2="315.50" y2="340.70" stroke="#231f20" stroke-width="0.9" />
<line x1="212.40" y1="340.70" x2="214.60" y2="340.70" stroke="#231f20" stroke-width="0.9" />
<text x="211.00" y="340.70" font-size="6.5" fill="#231f20" text-anchor="middle" transform="rotate(-90 211.00 340.70)" stroke="#231f20" stroke-width="0.12" >0</text>
<line x1="212.40" y1="319.07" x2="214.60" y2="319.07" stroke="#231f20" stroke-width="0.9" />
<text x="211.00" y="319.07" font-size="6.5" fill="#231f20" text-anchor="middle" transform="rotate(-90 211.00 319.07)" stroke="#231f20" stroke-width="0.12" >1</text>
<line x1="212.40" y1="297.43" x2="214.60" y2="297.43" stroke="#231f20" stroke-width="0.9" />
<text x="211.00" y="297.43" font-size="6.5" fill="#231f20" text-anchor="middle" transform="rotate(-90 211.00 297.43)" stroke="#231f20" stroke-width="0.12" >2</text>
<line x1="212.40" y1="275.80" x2="214.60" y2="275.80" stroke="#231f20" stroke-width="0.9" />
<text x="211.00" y="275.80" font-size="6.5" fill="#231f20" text-anchor="middle" transform="rotate(-90 211.00 275.80)" stroke="#231f20" stroke-width="0.12" >3</text>
<text x="266.50" y="266.60" font-size="6.5" fill="#231f20" text-anchor="middle" stroke="#231f20" stroke-width="0.12" >g-MDSC cells</text>
<text x="203.30" y="310.25" font-size="6.5" fill="#231f20" text-anchor="middle" transform="rotate(-90 203.30 310.25)" stroke="#231f20" stroke-width="0.12" >% of Population/CD45<tspan dy="-2" font-size="4.2">+</tspan></text>
<text x="230.05" y="343.30" font-size="6.5" fill="#231f20" text-anchor="end" transform="rotate(-90 230.05 343.30)" stroke="#231f20" stroke-width="0.12" >Veh</text>
<text x="243.45" y="343.30" font-size="6.5" fill="#231f20" text-anchor="end" transform="rotate(-90 243.45 343.30)" stroke="#231f20" stroke-width="0.12" >150</text>
<text x="257.25" y="343.30" font-size="6.5" fill="#231f20" text-anchor="end" transform="rotate(-90 257.25 343.30)" stroke="#231f20" stroke-width="0.12" >300</text>
<text x="281.45" y="343.30" font-size="6.5" fill="#231f20" text-anchor="end" transform="rotate(-90 281.45 343.30)" stroke="#231f20" stroke-width="0.12" >Veh</text>
<text x="294.65" y="343.30" font-size="6.5" fill="#231f20" text-anchor="end" transform="rotate(-90 294.65 343.30)" stroke="#231f20" stroke-width="0.12" >150</text>
<text x="308.05" y="343.30" font-size="6.5" fill="#231f20" text-anchor="end" transform="rotate(-90 308.05 343.30)" stroke="#231f20" stroke-width="0.12" >300</text>
<line x1="225.00" y1="356.90" x2="257.30" y2="356.90" stroke="#231f20" stroke-width="0.8" />
<line x1="275.80" y1="356.90" x2="307.60" y2="356.90" stroke="#231f20" stroke-width="0.8" />
<text x="241.15" y="365.10" font-size="6.5" fill="#231f20" text-anchor="middle" stroke="#231f20" stroke-width="0.12" >2Q7D×2</text>
<text x="291.70" y="365.10" font-size="6.5" fill="#231f20" text-anchor="middle" stroke="#231f20" stroke-width="0.12" >2Q7D×3</text>
<text x="311.20" y="348.10" font-size="6.5" fill="#231f20" stroke="#231f20" stroke-width="0.12" >PC14374</text>
<text x="314.00" y="354.90" font-size="6.5" fill="#231f20" stroke="#231f20" stroke-width="0.12" >(mg/kg)</text>
<line x1="220.70" y1="337.40" x2="227.70" y2="337.40" stroke="#a5a7aa" stroke-width="0.65" />
<circle cx="220.40" cy="338.20" r="1.05" fill="#231f20"/>
<circle cx="222.20" cy="337.60" r="1.05" fill="#231f20"/>
<circle cx="224.20" cy="337.20" r="1.05" fill="#231f20"/>
<circle cx="226.00" cy="336.40" r="1.05" fill="#231f20"/>
<circle cx="228.00" cy="336.00" r="1.05" fill="#231f20"/>
<circle cx="228.00" cy="338.40" r="1.05" fill="#231f20"/>
<circle cx="220.40" cy="339.60" r="1.05" fill="#231f20"/>
<line x1="234.60" y1="336.80" x2="241.60" y2="336.80" stroke="#a6cf8c" stroke-width="0.65" />
<polygon points="234.60,334.85 233.44,336.92 235.75,336.92" fill="#5c9e31"/>
<polygon points="236.60,335.45 235.44,337.52 237.75,337.52" fill="#5c9e31"/>
<polygon points="238.60,335.05 237.44,337.12 239.75,337.12" fill="#5c9e31"/>
<polygon points="240.60,334.65 239.44,336.72 241.75,336.72" fill="#5c9e31"/>
<polygon points="242.10,335.25 240.94,337.32 243.25,337.32" fill="#5c9e31"/>
<polygon points="237.60,338.55 236.44,340.62 238.75,340.62" fill="#5c9e31"/>
<line x1="247.40" y1="334.60" x2="256.40" y2="334.60" stroke="#9694cf" stroke-width="0.65" />
<line x1="251.90" y1="332.60" x2="251.90" y2="336.60" stroke="#9694cf" stroke-width="0.65" />
<line x1="249.65" y1="332.60" x2="254.15" y2="332.60" stroke="#9694cf" stroke-width="0.65" />
<line x1="249.65" y1="336.60" x2="254.15" y2="336.60" stroke="#9694cf" stroke-width="0.65" />
<rect x="248.46" y="328.75" width="1.89" height="1.89" fill="#2b2a83"/>
<rect x="252.96" y="328.75" width="1.89" height="1.89" fill="#2b2a83"/>
<rect x="250.96" y="333.36" width="1.89" height="1.89" fill="#2b2a83"/>
<rect x="250.96" y="336.45" width="1.89" height="1.89" fill="#2b2a83"/>
<rect x="248.46" y="338.75" width="1.89" height="1.89" fill="#2b2a83"/>
<rect x="252.96" y="338.75" width="1.89" height="1.89" fill="#2b2a83"/>
<line x1="270.25" y1="322.00" x2="279.75" y2="322.00" stroke="#a5a7aa" stroke-width="0.65" />
<line x1="275.00" y1="316.20" x2="275.00" y2="327.80" stroke="#a5a7aa" stroke-width="0.65" />
<line x1="272.62" y1="316.20" x2="277.38" y2="316.20" stroke="#a5a7aa" stroke-width="0.65" />
<line x1="272.62" y1="327.80" x2="277.38" y2="327.80" stroke="#a5a7aa" stroke-width="0.65" />
<rect x="274.06" y="296.16" width="1.89" height="1.89" fill="#231f20"/>
<rect x="272.06" y="315.66" width="1.89" height="1.89" fill="#231f20"/>
<rect x="275.56" y="317.25" width="1.89" height="1.89" fill="#231f20"/>
<rect x="274.06" y="326.86" width="1.89" height="1.89" fill="#231f20"/>
<rect x="272.06" y="335.25" width="1.89" height="1.89" fill="#231f20"/>
<rect x="276.06" y="335.25" width="1.89" height="1.89" fill="#231f20"/>
<line x1="285.30" y1="337.60" x2="292.30" y2="337.60" stroke="#a6cf8c" stroke-width="0.65" />
<polygon points="285.30,336.25 284.15,338.32 286.45,338.32" fill="#5c9e31"/>
<polygon points="287.30,335.65 286.15,337.72 288.45,337.72" fill="#5c9e31"/>
<polygon points="289.30,336.65 288.15,338.72 290.45,338.72" fill="#5c9e31"/>
<polygon points="291.30,336.25 290.15,338.32 292.45,338.32" fill="#5c9e31"/>
<polygon points="292.80,336.45 291.65,338.52 293.95,338.52" fill="#5c9e31"/>
<polygon points="285.30,338.05 284.15,340.12 286.45,340.12" fill="#5c9e31"/>
<line x1="299.50" y1="337.50" x2="306.50" y2="337.50" stroke="#9694cf" stroke-width="0.65" />
<circle cx="299.00" cy="337.40" r="1.05" fill="#2b2a83"/>
<circle cx="301.00" cy="337.00" r="1.05" fill="#2b2a83"/>
<circle cx="303.00" cy="337.60" r="1.05" fill="#2b2a83"/>
<circle cx="305.00" cy="337.20" r="1.05" fill="#2b2a83"/>
<circle cx="307.00" cy="337.60" r="1.05" fill="#2b2a83"/>
<circle cx="299.00" cy="339.00" r="1.05" fill="#2b2a83"/>
<polyline points="223.90,331.80 223.90,328.50 238.40,328.50 238.40,331.80" fill="none" stroke="#231f20" stroke-width="1.1" stroke-linejoin="miter"/>
<text x="231.15" y="325.50" font-size="6.5" fill="#231f20" text-anchor="middle" stroke="#231f20" stroke-width="0.12" >ns</text>
<polyline points="224.20,321.50 224.20,318.20 251.60,318.20 251.60,321.50" fill="none" stroke="#231f20" stroke-width="1.1" stroke-linejoin="miter"/>
<text x="237.90" y="315.20" font-size="6.5" fill="#231f20" text-anchor="middle" stroke="#231f20" stroke-width="0.12" >ns</text>
<polyline points="274.50,294.50 274.50,291.20 290.40,291.20 290.40,294.50" fill="none" stroke="#231f20" stroke-width="1.1" stroke-linejoin="miter"/>
<text x="282.97" y="289.66" font-size="6.1" font-weight="bold" fill="#231f20" text-anchor="middle" letter-spacing="1.05">*</text>
<polyline points="274.20,286.10 274.20,282.80 301.50,282.80 301.50,286.10" fill="none" stroke="#231f20" stroke-width="1.1" stroke-linejoin="miter"/>
<text x="288.38" y="281.26" font-size="6.1" font-weight="bold" fill="#231f20" text-anchor="middle" letter-spacing="1.05">*</text>
<line x1="374.60" y1="275.45" x2="374.60" y2="341.05" stroke="#231f20" stroke-width="0.9" />
<line x1="374.15" y1="340.60" x2="475.40" y2="340.60" stroke="#231f20" stroke-width="0.9" />
<line x1="372.40" y1="340.60" x2="374.60" y2="340.60" stroke="#231f20" stroke-width="0.9" />
<text x="370.10" y="342.85" font-size="6.5" fill="#231f20" text-anchor="end" stroke="#231f20" stroke-width="0.12" >0</text>
<line x1="372.40" y1="319.03" x2="374.60" y2="319.03" stroke="#231f20" stroke-width="0.9" />
<text x="370.10" y="321.28" font-size="6.5" fill="#231f20" text-anchor="end" stroke="#231f20" stroke-width="0.12" >25</text>
<line x1="372.40" y1="297.47" x2="374.60" y2="297.47" stroke="#231f20" stroke-width="0.9" />
<text x="370.10" y="299.72" font-size="6.5" fill="#231f20" text-anchor="end" stroke="#231f20" stroke-width="0.12" >50</text>
<line x1="372.40" y1="275.90" x2="374.60" y2="275.90" stroke="#231f20" stroke-width="0.9" />
<text x="370.10" y="278.15" font-size="6.5" fill="#231f20" text-anchor="end" stroke="#231f20" stroke-width="0.12" >75</text>
<text x="426.50" y="266.20" font-size="6.5" fill="#231f20" text-anchor="middle" stroke="#231f20" stroke-width="0.12" >Macrophages</text>
<text x="359.00" y="310.25" font-size="6.5" fill="#231f20" text-anchor="middle" transform="rotate(-90 359.00 310.25)" stroke="#231f20" stroke-width="0.12" >% of Population/CD45<tspan dy="-2" font-size="4.2">+</tspan></text>
<text x="389.65" y="343.20" font-size="6.5" fill="#231f20" text-anchor="end" transform="rotate(-90 389.65 343.20)" stroke="#231f20" stroke-width="0.12" >Veh</text>
<text x="403.45" y="343.20" font-size="6.5" fill="#231f20" text-anchor="end" transform="rotate(-90 403.45 343.20)" stroke="#231f20" stroke-width="0.12" >150</text>
<text x="417.15" y="343.20" font-size="6.5" fill="#231f20" text-anchor="end" transform="rotate(-90 417.15 343.20)" stroke="#231f20" stroke-width="0.12" >300</text>
<text x="439.95" y="343.20" font-size="6.5" fill="#231f20" text-anchor="end" transform="rotate(-90 439.95 343.20)" stroke="#231f20" stroke-width="0.12" >Veh</text>
<text x="453.45" y="343.20" font-size="6.5" fill="#231f20" text-anchor="end" transform="rotate(-90 453.45 343.20)" stroke="#231f20" stroke-width="0.12" >150</text>
<text x="467.15" y="343.20" font-size="6.5" fill="#231f20" text-anchor="end" transform="rotate(-90 467.15 343.20)" stroke="#231f20" stroke-width="0.12" >300</text>
<line x1="385.10" y1="356.80" x2="417.40" y2="356.80" stroke="#231f20" stroke-width="0.8" />
<line x1="435.40" y1="356.80" x2="467.40" y2="356.80" stroke="#231f20" stroke-width="0.8" />
<text x="401.25" y="365.00" font-size="6.5" fill="#231f20" text-anchor="middle" stroke="#231f20" stroke-width="0.12" >2Q7D×2</text>
<text x="451.40" y="365.00" font-size="6.5" fill="#231f20" text-anchor="middle" stroke="#231f20" stroke-width="0.12" >2Q7D×3</text>
<text x="471.20" y="348.00" font-size="6.5" fill="#231f20" stroke="#231f20" stroke-width="0.12" >PC14374</text>
<text x="473.50" y="354.80" font-size="6.5" fill="#231f20" stroke="#231f20" stroke-width="0.12" >(mg/kg)</text>
<line x1="379.55" y1="328.50" x2="388.05" y2="328.50" stroke="#a5a7aa" stroke-width="0.65" />
<line x1="383.80" y1="326.90" x2="383.80" y2="330.10" stroke="#a5a7aa" stroke-width="0.65" />
<line x1="381.68" y1="326.90" x2="385.93" y2="326.90" stroke="#a5a7aa" stroke-width="0.65" />
<line x1="381.68" y1="330.10" x2="385.93" y2="330.10" stroke="#a5a7aa" stroke-width="0.65" />
<circle cx="383.80" cy="321.50" r="1.05" fill="#231f20"/>
<circle cx="381.80" cy="326.60" r="1.05" fill="#231f20"/>
<circle cx="386.00" cy="328.20" r="1.05" fill="#231f20"/>
<circle cx="381.60" cy="329.70" r="1.05" fill="#231f20"/>
<circle cx="385.80" cy="332.00" r="1.05" fill="#231f20"/>
<circle cx="383.80" cy="335.50" r="1.05" fill="#231f20"/>
<line x1="393.70" y1="335.50" x2="401.70" y2="335.50" stroke="#a6cf8c" stroke-width="0.65" />
<line x1="397.70" y1="334.20" x2="397.70" y2="336.80" stroke="#a6cf8c" stroke-width="0.65" />
<line x1="395.70" y1="334.20" x2="399.70" y2="334.20" stroke="#a6cf8c" stroke-width="0.65" />
<line x1="395.70" y1="336.80" x2="399.70" y2="336.80" stroke="#a6cf8c" stroke-width="0.65" />
<polygon points="397.70,328.55 396.55,330.62 398.85,330.62" fill="#5c9e31"/>
<polygon points="395.70,332.35 394.55,334.42 396.85,334.42" fill="#5c9e31"/>
<polygon points="399.70,333.35 398.55,335.42 400.85,335.42" fill="#5c9e31"/>
<polygon points="395.70,335.65 394.55,337.72 396.85,337.72" fill="#5c9e31"/>
<polygon points="399.70,336.25 398.55,338.32 400.85,338.32" fill="#5c9e31"/>
<polygon points="395.70,338.55 394.55,340.62 396.85,340.62" fill="#5c9e31"/>
<line x1="407.00" y1="333.00" x2="416.00" y2="333.00" stroke="#9694cf" stroke-width="0.65" />
<line x1="411.50" y1="331.30" x2="411.50" y2="334.70" stroke="#9694cf" stroke-width="0.65" />
<line x1="409.25" y1="331.30" x2="413.75" y2="331.30" stroke="#9694cf" stroke-width="0.65" />
<line x1="409.25" y1="334.70" x2="413.75" y2="334.70" stroke="#9694cf" stroke-width="0.65" />
<rect x="410.56" y="323.36" width="1.89" height="1.89" fill="#2b2a83"/>
<rect x="410.56" y="330.25" width="1.89" height="1.89" fill="#2b2a83"/>
<rect x="408.56" y="333.36" width="1.89" height="1.89" fill="#2b2a83"/>
<rect x="412.56" y="333.36" width="1.89" height="1.89" fill="#2b2a83"/>
<rect x="406.56" y="335.66" width="1.89" height="1.89" fill="#2b2a83"/>
<rect x="410.56" y="335.66" width="1.89" height="1.89" fill="#2b2a83"/>
<rect x="414.56" y="335.66" width="1.89" height="1.89" fill="#2b2a83"/>
<line x1="430.90" y1="298.20" x2="438.90" y2="298.20" stroke="#a5a7aa" stroke-width="0.65" />
<line x1="434.90" y1="296.10" x2="434.90" y2="300.30" stroke="#a5a7aa" stroke-width="0.65" />
<line x1="432.90" y1="296.10" x2="436.90" y2="296.10" stroke="#a5a7aa" stroke-width="0.65" />
<line x1="432.90" y1="300.30" x2="436.90" y2="300.30" stroke="#a5a7aa" stroke-width="0.65" />
<rect x="433.95" y="291.86" width="1.89" height="1.89" fill="#231f20"/>
<rect x="431.95" y="294.86" width="1.89" height="1.89" fill="#231f20"/>
<rect x="435.75" y="295.66" width="1.89" height="1.89" fill="#231f20"/>
<rect x="431.95" y="297.06" width="1.89" height="1.89" fill="#231f20"/>
<rect x="435.95" y="297.95" width="1.89" height="1.89" fill="#231f20"/>
<rect x="433.95" y="307.56" width="1.89" height="1.89" fill="#231f20"/>
<line x1="444.00" y1="320.20" x2="453.00" y2="320.20" stroke="#a6cf8c" stroke-width="0.65" />
<line x1="448.50" y1="316.10" x2="448.50" y2="324.30" stroke="#a6cf8c" stroke-width="0.65" />
<line x1="446.25" y1="316.10" x2="450.75" y2="316.10" stroke="#a6cf8c" stroke-width="0.65" />
<line x1="446.25" y1="324.30" x2="450.75" y2="324.30" stroke="#a6cf8c" stroke-width="0.65" />
<polygon points="451.00,311.35 449.85,313.42 452.15,313.42" fill="#5c9e31"/>
<polygon points="446.70,313.45 445.55,315.52 447.85,315.52" fill="#5c9e31"/>
<polygon points="450.50,316.25 449.35,318.32 451.65,318.32" fill="#5c9e31"/>
<polygon points="447.00,318.05 445.85,320.12 448.15,320.12" fill="#5c9e31"/>
<polygon points="449.00,320.05 447.85,322.12 450.15,322.12" fill="#5c9e31"/>
<polygon points="449.00,336.65 447.85,338.72 450.15,338.72" fill="#5c9e31"/>
<line x1="458.05" y1="331.50" x2="467.55" y2="331.50" stroke="#9694cf" stroke-width="0.65" />
<line x1="462.80" y1="327.10" x2="462.80" y2="335.90" stroke="#9694cf" stroke-width="0.65" />
<line x1="460.43" y1="327.10" x2="465.18" y2="327.10" stroke="#9694cf" stroke-width="0.65" />
<line x1="460.43" y1="335.90" x2="465.18" y2="335.90" stroke="#9694cf" stroke-width="0.65" />
<circle cx="462.80" cy="316.20" r="1.05" fill="#2b2a83"/>
<circle cx="462.80" cy="322.00" r="1.05" fill="#2b2a83"/>
<circle cx="462.80" cy="334.30" r="1.05" fill="#2b2a83"/>
<circle cx="458.80" cy="338.90" r="1.05" fill="#2b2a83"/>
<circle cx="462.80" cy="338.90" r="1.05" fill="#2b2a83"/>
<circle cx="466.80" cy="338.90" r="1.05" fill="#2b2a83"/>
<polyline points="383.50,314.50 383.50,311.20 397.40,311.20 397.40,314.50" fill="none" stroke="#231f20" stroke-width="1.1" stroke-linejoin="miter"/>
<text x="390.45" y="308.20" font-size="6.5" fill="#231f20" text-anchor="middle" stroke="#231f20" stroke-width="0.12" >ns</text>
<polyline points="383.10,303.80 383.10,300.50 411.10,300.50 411.10,303.80" fill="none" stroke="#231f20" stroke-width="1.1" stroke-linejoin="miter"/>
<text x="397.10" y="297.50" font-size="6.5" fill="#231f20" text-anchor="middle" stroke="#231f20" stroke-width="0.12" >ns</text>
<polyline points="434.20,289.10 434.20,285.80 448.80,285.80 448.80,289.10" fill="none" stroke="#231f20" stroke-width="1.1" stroke-linejoin="miter"/>
<text x="442.02" y="284.26" font-size="6.1" font-weight="bold" fill="#231f20" text-anchor="middle" letter-spacing="1.05">**</text>
<polyline points="433.80,280.70 433.80,277.40 461.80,277.40 461.80,280.70" fill="none" stroke="#231f20" stroke-width="1.1" stroke-linejoin="miter"/>
<text x="448.32" y="275.86" font-size="6.1" font-weight="bold" fill="#231f20" text-anchor="middle" letter-spacing="1.05">***</text>
<text transform="translate(0.30 376.00) scale(0.93 1)" font-size="17.4" font-weight="bold" fill="#000">C</text>
<line x1="110.50" y1="395.40" x2="110.50" y2="457.70" stroke="#c4c6c8" stroke-width="0.6" />
<line x1="53.00" y1="398.80" x2="53.00" y2="461.60" stroke="#231f20" stroke-width="0.8" />
<line x1="52.60" y1="461.20" x2="168.50" y2="461.20" stroke="#231f20" stroke-width="0.8" />
<line x1="51.00" y1="461.20" x2="53.00" y2="461.20" stroke="#231f20" stroke-width="0.8" />
<text x="49.40" y="463.45" font-size="6.5" fill="#231f20" text-anchor="end" stroke="#231f20" stroke-width="0.12" >7</text>
<line x1="51.00" y1="430.20" x2="53.00" y2="430.20" stroke="#231f20" stroke-width="0.8" />
<text x="49.40" y="432.45" font-size="6.5" fill="#231f20" text-anchor="end" stroke="#231f20" stroke-width="0.12" >8</text>
<line x1="51.00" y1="399.20" x2="53.00" y2="399.20" stroke="#231f20" stroke-width="0.8" />
<text x="49.40" y="401.45" font-size="6.5" fill="#231f20" text-anchor="end" stroke="#231f20" stroke-width="0.12" >9</text>
<line x1="65.10" y1="461.20" x2="65.10" y2="463.10" stroke="#231f20" stroke-width="0.7" />
<text x="66.00" y="468.70" font-size="6.5" fill="#231f20" text-anchor="end" transform="rotate(-45 66.00 468.70)" stroke="#231f20" stroke-width="0.12" >V</text>
<line x1="83.40" y1="461.20" x2="83.40" y2="463.10" stroke="#231f20" stroke-width="0.7" />
<text x="84.30" y="468.70" font-size="6.5" fill="#231f20" text-anchor="end" transform="rotate(-45 84.30 468.70)" stroke="#231f20" stroke-width="0.12" >150</text>
<line x1="101.60" y1="461.20" x2="101.60" y2="463.10" stroke="#231f20" stroke-width="0.7" />
<text x="102.50" y="468.70" font-size="6.5" fill="#231f20" text-anchor="end" transform="rotate(-45 102.50 468.70)" stroke="#231f20" stroke-width="0.12" >300</text>
<line x1="119.80" y1="461.20" x2="119.80" y2="463.10" stroke="#231f20" stroke-width="0.7" />
<text x="120.70" y="468.70" font-size="6.5" fill="#231f20" text-anchor="end" transform="rotate(-45 120.70 468.70)" stroke="#231f20" stroke-width="0.12" >V</text>
<line x1="138.10" y1="461.20" x2="138.10" y2="463.10" stroke="#231f20" stroke-width="0.7" />
<text x="139.00" y="468.70" font-size="6.5" fill="#231f20" text-anchor="end" transform="rotate(-45 139.00 468.70)" stroke="#231f20" stroke-width="0.12" >150</text>
<line x1="156.30" y1="461.20" x2="156.30" y2="463.10" stroke="#231f20" stroke-width="0.7" />
<text x="157.20" y="468.70" font-size="6.5" fill="#231f20" text-anchor="end" transform="rotate(-45 157.20 468.70)" stroke="#231f20" stroke-width="0.12" >300</text>
<text x="110.40" y="384.70" font-size="6.5" fill="#231f20" text-anchor="middle" stroke="#231f20" stroke-width="0.12" >CD45 cell signature</text>
<line x1="60.70" y1="478.40" x2="104.00" y2="478.40" stroke="#231f20" stroke-width="0.9" />
<line x1="114.60" y1="478.40" x2="157.70" y2="478.40" stroke="#231f20" stroke-width="0.9" />
<text x="81.60" y="486.00" font-size="6.5" fill="#231f20" text-anchor="middle" stroke="#231f20" stroke-width="0.12" >2Q7D×2</text>
<text x="137.90" y="486.00" font-size="6.5" fill="#231f20" text-anchor="middle" stroke="#231f20" stroke-width="0.12" >2Q7D×3</text>
<text x="160.00" y="470.00" font-size="6.5" fill="#231f20" stroke="#231f20" stroke-width="0.12" >PC14374</text>
<text x="163.10" y="477.70" font-size="6.5" fill="#231f20" stroke="#231f20" stroke-width="0.12" >(mg/kg)</text>
<line x1="65.10" y1="422.60" x2="65.10" y2="424.20" stroke="#231f20" stroke-width="0.9" />
<line x1="61.90" y1="422.60" x2="68.30" y2="422.60" stroke="#231f20" stroke-width="0.9" />
<line x1="65.10" y1="443.70" x2="65.10" y2="446.00" stroke="#231f20" stroke-width="0.9" />
<line x1="61.90" y1="446.00" x2="68.30" y2="446.00" stroke="#231f20" stroke-width="0.9" />
<rect x="59.10" y="424.20" width="12.00" height="19.50" rx="0.3" fill="#a0a1a3" stroke="#1a1718" stroke-width="1.0"/>
<line x1="59.10" y1="433.40" x2="71.10" y2="433.40" stroke="#1a1718" stroke-width="1.0" />
<line x1="83.40" y1="405.50" x2="83.40" y2="407.50" stroke="#231f20" stroke-width="0.9" />
<line x1="80.20" y1="405.50" x2="86.60" y2="405.50" stroke="#231f20" stroke-width="0.9" />
<rect x="77.40" y="407.50" width="12.00" height="13.80" rx="0.3" fill="#6ab33e" stroke="#1a1718" stroke-width="1.0"/>
<line x1="77.40" y1="415.80" x2="89.40" y2="415.80" stroke="#1a1718" stroke-width="1.0" />
<line x1="101.60" y1="403.60" x2="101.60" y2="405.00" stroke="#231f20" stroke-width="0.9" />
<line x1="98.40" y1="403.60" x2="104.80" y2="403.60" stroke="#231f20" stroke-width="0.9" />
<line x1="101.60" y1="410.60" x2="101.60" y2="413.30" stroke="#231f20" stroke-width="0.9" />
<line x1="98.40" y1="413.30" x2="104.80" y2="413.30" stroke="#231f20" stroke-width="0.9" />
<rect x="95.60" y="405.00" width="12.00" height="5.60" rx="0.3" fill="#2f2b86" stroke="#1a1718" stroke-width="1.0"/>
<line x1="119.80" y1="436.60" x2="119.80" y2="440.50" stroke="#231f20" stroke-width="0.9" />
<line x1="116.60" y1="436.60" x2="123.00" y2="436.60" stroke="#231f20" stroke-width="0.9" />
<line x1="119.80" y1="451.20" x2="119.80" y2="454.60" stroke="#231f20" stroke-width="0.9" />
<line x1="116.60" y1="454.60" x2="123.00" y2="454.60" stroke="#231f20" stroke-width="0.9" />
<rect x="113.80" y="440.50" width="12.00" height="10.70" rx="0.3" fill="#a0a1a3" stroke="#1a1718" stroke-width="1.0"/>
<line x1="113.80" y1="445.40" x2="125.80" y2="445.40" stroke="#1a1718" stroke-width="1.0" />
<line x1="138.10" y1="423.80" x2="138.10" y2="427.40" stroke="#231f20" stroke-width="0.9" />
<line x1="134.90" y1="423.80" x2="141.30" y2="423.80" stroke="#231f20" stroke-width="0.9" />
<line x1="138.10" y1="438.50" x2="138.10" y2="445.40" stroke="#231f20" stroke-width="0.9" />
<line x1="134.90" y1="445.40" x2="141.30" y2="445.40" stroke="#231f20" stroke-width="0.9" />
<rect x="132.10" y="427.40" width="12.00" height="11.10" rx="0.3" fill="#6ab33e" stroke="#1a1718" stroke-width="1.0"/>
<line x1="132.10" y1="431.50" x2="144.10" y2="431.50" stroke="#1a1718" stroke-width="1.0" />
<line x1="156.30" y1="411.20" x2="156.30" y2="415.10" stroke="#231f20" stroke-width="0.9" />
<line x1="153.10" y1="411.20" x2="159.50" y2="411.20" stroke="#231f20" stroke-width="0.9" />
<line x1="156.30" y1="442.00" x2="156.30" y2="446.50" stroke="#231f20" stroke-width="0.9" />
<line x1="153.10" y1="446.50" x2="159.50" y2="446.50" stroke="#231f20" stroke-width="0.9" />
<rect x="150.30" y="415.10" width="12.00" height="26.90" rx="0.3" fill="#2f2b86" stroke="#1a1718" stroke-width="1.0"/>
<line x1="150.30" y1="434.90" x2="162.30" y2="434.90" stroke="#1a1718" stroke-width="1.0" />
<polyline points="64.80,398.10 64.80,395.20 65.40,394.60 100.90,394.60 101.50,395.20 101.50,398.10" fill="none" stroke="#3a3a3c" stroke-width="0.65" />
<text x="84.33" y="393.33" font-size="4.6" font-weight="bold" fill="#231f20" text-anchor="middle" letter-spacing="0.55">**</text>
<polyline points="65.10,403.50 65.10,400.60 65.70,400.00 82.80,400.00 83.40,400.60 83.40,403.50" fill="none" stroke="#3a3a3c" stroke-width="0.65" />
<text x="75.43" y="398.73" font-size="4.6" font-weight="bold" fill="#231f20" text-anchor="middle" letter-spacing="0.55">**</text>
<polyline points="119.20,403.70 119.20,400.30 119.80,399.70 155.60,399.70 156.20,400.30 156.20,403.70" fill="none" stroke="#3a3a3c" stroke-width="0.65" />
<text x="138.88" y="398.43" font-size="4.6" font-weight="bold" fill="#231f20" text-anchor="middle" letter-spacing="0.55">*</text>
<text x="41.30" y="430.60" font-size="6.5" fill="#231f20" text-anchor="middle" transform="rotate(-90 41.30 430.60)" stroke="#231f20" stroke-width="0.12" >Signature score</text>
<line x1="273.90" y1="396.20" x2="273.90" y2="458.50" stroke="#c4c6c8" stroke-width="0.6" />
<line x1="214.80" y1="399.60" x2="214.80" y2="462.70" stroke="#231f20" stroke-width="0.8" />
<line x1="214.40" y1="462.30" x2="330.00" y2="462.30" stroke="#231f20" stroke-width="0.8" />
<line x1="212.80" y1="462.30" x2="214.80" y2="462.30" stroke="#231f20" stroke-width="0.8" />
<text x="211.20" y="464.55" font-size="6.5" fill="#231f20" text-anchor="end" stroke="#231f20" stroke-width="0.12" >5</text>
<line x1="212.80" y1="446.73" x2="214.80" y2="446.73" stroke="#231f20" stroke-width="0.8" />
<text x="211.20" y="448.98" font-size="6.5" fill="#231f20" text-anchor="end" stroke="#231f20" stroke-width="0.12" >6</text>
<line x1="212.80" y1="431.15" x2="214.80" y2="431.15" stroke="#231f20" stroke-width="0.8" />
<text x="211.20" y="433.40" font-size="6.5" fill="#231f20" text-anchor="end" stroke="#231f20" stroke-width="0.12" >7</text>
<line x1="212.80" y1="415.57" x2="214.80" y2="415.57" stroke="#231f20" stroke-width="0.8" />
<text x="211.20" y="417.82" font-size="6.5" fill="#231f20" text-anchor="end" stroke="#231f20" stroke-width="0.12" >8</text>
<line x1="212.80" y1="400.00" x2="214.80" y2="400.00" stroke="#231f20" stroke-width="0.8" />
<text x="211.20" y="402.25" font-size="6.5" fill="#231f20" text-anchor="end" stroke="#231f20" stroke-width="0.12" >9</text>
<line x1="227.30" y1="462.30" x2="227.30" y2="464.20" stroke="#231f20" stroke-width="0.7" />
<text x="228.20" y="469.80" font-size="6.5" fill="#231f20" text-anchor="end" transform="rotate(-45 228.20 469.80)" stroke="#231f20" stroke-width="0.12" >V</text>
<line x1="245.80" y1="462.30" x2="245.80" y2="464.20" stroke="#231f20" stroke-width="0.7" />
<text x="246.70" y="469.80" font-size="6.5" fill="#231f20" text-anchor="end" transform="rotate(-45 246.70 469.80)" stroke="#231f20" stroke-width="0.12" >150</text>
<line x1="264.20" y1="462.30" x2="264.20" y2="464.20" stroke="#231f20" stroke-width="0.7" />
<text x="265.10" y="469.80" font-size="6.5" fill="#231f20" text-anchor="end" transform="rotate(-45 265.10 469.80)" stroke="#231f20" stroke-width="0.12" >300</text>
<line x1="282.80" y1="462.30" x2="282.80" y2="464.20" stroke="#231f20" stroke-width="0.7" />
<text x="283.70" y="469.80" font-size="6.5" fill="#231f20" text-anchor="end" transform="rotate(-45 283.70 469.80)" stroke="#231f20" stroke-width="0.12" >V</text>
<line x1="301.10" y1="462.30" x2="301.10" y2="464.20" stroke="#231f20" stroke-width="0.7" />
<text x="302.00" y="469.80" font-size="6.5" fill="#231f20" text-anchor="end" transform="rotate(-45 302.00 469.80)" stroke="#231f20" stroke-width="0.12" >150</text>
<line x1="319.50" y1="462.30" x2="319.50" y2="464.20" stroke="#231f20" stroke-width="0.7" />
<text x="320.40" y="469.80" font-size="6.5" fill="#231f20" text-anchor="end" transform="rotate(-45 320.40 469.80)" stroke="#231f20" stroke-width="0.12" >300</text>
<text x="273.80" y="384.70" font-size="6.5" fill="#231f20" text-anchor="middle" stroke="#231f20" stroke-width="0.12" >T-cell signature</text>
<text x="204.30" y="431.15" font-size="6.5" fill="#231f20" text-anchor="middle" transform="rotate(-90 204.30 431.15)" stroke="#231f20" stroke-width="0.12" >Signature score</text>
<line x1="220.40" y1="478.40" x2="264.20" y2="478.40" stroke="#231f20" stroke-width="0.9" />
<line x1="274.60" y1="478.40" x2="318.20" y2="478.40" stroke="#231f20" stroke-width="0.9" />
<text x="241.55" y="486.00" font-size="6.5" fill="#231f20" text-anchor="middle" stroke="#231f20" stroke-width="0.12" >2Q7D×2</text>
<text x="298.15" y="486.00" font-size="6.5" fill="#231f20" text-anchor="middle" stroke="#231f20" stroke-width="0.12" >2Q7D×3</text>
<text x="324.60" y="471.10" font-size="6.5" fill="#231f20" stroke="#231f20" stroke-width="0.12" >PC14374</text>
<text x="327.70" y="478.80" font-size="6.5" fill="#231f20" stroke="#231f20" stroke-width="0.12" >(mg/kg)</text>
<line x1="227.30" y1="426.20" x2="227.30" y2="426.90" stroke="#231f20" stroke-width="0.9" />
<line x1="224.10" y1="426.20" x2="230.50" y2="426.20" stroke="#231f20" stroke-width="0.9" />
<line x1="227.30" y1="436.50" x2="227.30" y2="439.20" stroke="#231f20" stroke-width="0.9" />
<line x1="224.10" y1="439.20" x2="230.50" y2="439.20" stroke="#231f20" stroke-width="0.9" />
<rect x="221.30" y="426.90" width="12.00" height="9.60" rx="0.3" fill="#a0a1a3" stroke="#1a1718" stroke-width="1.0"/>
<line x1="221.30" y1="428.00" x2="233.30" y2="428.00" stroke="#1a1718" stroke-width="1.0" />
<line x1="245.80" y1="410.30" x2="245.80" y2="412.60" stroke="#231f20" stroke-width="0.9" />
<line x1="242.60" y1="410.30" x2="249.00" y2="410.30" stroke="#231f20" stroke-width="0.9" />
<line x1="245.80" y1="424.60" x2="245.80" y2="428.50" stroke="#231f20" stroke-width="0.9" />
<line x1="242.60" y1="428.50" x2="249.00" y2="428.50" stroke="#231f20" stroke-width="0.9" />
<rect x="239.80" y="412.60" width="12.00" height="12.00" rx="0.3" fill="#6ab33e" stroke="#1a1718" stroke-width="1.0"/>
<line x1="239.80" y1="419.50" x2="251.80" y2="419.50" stroke="#1a1718" stroke-width="1.0" />
<line x1="264.20" y1="408.00" x2="264.20" y2="410.00" stroke="#231f20" stroke-width="0.9" />
<line x1="261.00" y1="408.00" x2="267.40" y2="408.00" stroke="#231f20" stroke-width="0.9" />
<rect x="258.20" y="410.00" width="12.00" height="6.50" rx="0.3" fill="#2f2b86" stroke="#1a1718" stroke-width="1.0"/>
<line x1="258.20" y1="416.00" x2="270.20" y2="416.00" stroke="#1a1718" stroke-width="1.0" />
<line x1="282.80" y1="441.50" x2="282.80" y2="443.40" stroke="#231f20" stroke-width="0.9" />
<line x1="279.60" y1="441.50" x2="286.00" y2="441.50" stroke="#231f20" stroke-width="0.9" />
<line x1="282.80" y1="451.20" x2="282.80" y2="453.10" stroke="#231f20" stroke-width="0.9" />
<line x1="279.60" y1="453.10" x2="286.00" y2="453.10" stroke="#231f20" stroke-width="0.9" />
<rect x="276.80" y="443.40" width="12.00" height="7.80" rx="0.3" fill="#a0a1a3" stroke="#1a1718" stroke-width="1.0"/>
<line x1="276.80" y1="448.50" x2="288.80" y2="448.50" stroke="#1a1718" stroke-width="1.0" />
<line x1="301.10" y1="422.30" x2="301.10" y2="430.80" stroke="#231f20" stroke-width="0.9" />
<line x1="297.90" y1="422.30" x2="304.30" y2="422.30" stroke="#231f20" stroke-width="0.9" />
<line x1="301.10" y1="446.50" x2="301.10" y2="450.30" stroke="#231f20" stroke-width="0.9" />
<line x1="297.90" y1="450.30" x2="304.30" y2="450.30" stroke="#231f20" stroke-width="0.9" />
<rect x="295.10" y="430.80" width="12.00" height="15.70" rx="0.3" fill="#6ab33e" stroke="#1a1718" stroke-width="1.0"/>
<line x1="295.10" y1="438.50" x2="307.10" y2="438.50" stroke="#1a1718" stroke-width="1.0" />
<line x1="319.50" y1="416.50" x2="319.50" y2="423.50" stroke="#231f20" stroke-width="0.9" />
<line x1="316.30" y1="416.50" x2="322.70" y2="416.50" stroke="#231f20" stroke-width="0.9" />
<line x1="319.50" y1="454.90" x2="319.50" y2="457.40" stroke="#231f20" stroke-width="0.9" />
<line x1="316.30" y1="457.40" x2="322.70" y2="457.40" stroke="#231f20" stroke-width="0.9" />
<rect x="313.50" y="423.50" width="12.00" height="31.40" rx="0.3" fill="#2f2b86" stroke="#1a1718" stroke-width="1.0"/>
<line x1="313.50" y1="443.10" x2="325.50" y2="443.10" stroke="#1a1718" stroke-width="1.0" />
<polyline points="227.00,402.30 227.00,399.40 227.60,398.80 263.90,398.80 264.50,399.40 264.50,402.30" fill="none" stroke="#3a3a3c" stroke-width="0.65" />
<text x="246.93" y="397.53" font-size="4.6" font-weight="bold" fill="#231f20" text-anchor="middle" letter-spacing="0.55">*</text>
<polyline points="227.00,409.30 227.00,406.40 227.60,405.80 244.90,405.80 245.50,406.40 245.50,409.30" fill="none" stroke="#3a3a3c" stroke-width="0.65" />
<text x="237.43" y="404.53" font-size="4.6" font-weight="bold" fill="#231f20" text-anchor="middle" letter-spacing="0.55">*</text>
<line x1="434.80" y1="396.20" x2="434.80" y2="458.50" stroke="#c4c6c8" stroke-width="0.6" />
<line x1="376.50" y1="399.30" x2="376.50" y2="462.20" stroke="#231f20" stroke-width="0.8" />
<line x1="376.10" y1="461.80" x2="493.80" y2="461.80" stroke="#231f20" stroke-width="0.8" />
<line x1="374.50" y1="461.80" x2="376.50" y2="461.80" stroke="#231f20" stroke-width="0.8" />
<text x="372.90" y="464.05" font-size="6.5" fill="#231f20" text-anchor="end" stroke="#231f20" stroke-width="0.12" >5</text>
<line x1="374.50" y1="446.27" x2="376.50" y2="446.27" stroke="#231f20" stroke-width="0.8" />
<text x="372.90" y="448.52" font-size="6.5" fill="#231f20" text-anchor="end" stroke="#231f20" stroke-width="0.12" >6</text>
<line x1="374.50" y1="430.75" x2="376.50" y2="430.75" stroke="#231f20" stroke-width="0.8" />
<text x="372.90" y="433.00" font-size="6.5" fill="#231f20" text-anchor="end" stroke="#231f20" stroke-width="0.12" >7</text>
<line x1="374.50" y1="415.23" x2="376.50" y2="415.23" stroke="#231f20" stroke-width="0.8" />
<text x="372.90" y="417.48" font-size="6.5" fill="#231f20" text-anchor="end" stroke="#231f20" stroke-width="0.12" >8</text>
<line x1="374.50" y1="399.70" x2="376.50" y2="399.70" stroke="#231f20" stroke-width="0.8" />
<text x="372.90" y="401.95" font-size="6.5" fill="#231f20" text-anchor="end" stroke="#231f20" stroke-width="0.12" >9</text>
<line x1="389.20" y1="461.80" x2="389.20" y2="463.70" stroke="#231f20" stroke-width="0.7" />
<text x="390.10" y="469.30" font-size="6.5" fill="#231f20" text-anchor="end" transform="rotate(-45 390.10 469.30)" stroke="#231f20" stroke-width="0.12" >V</text>
<line x1="407.60" y1="461.80" x2="407.60" y2="463.70" stroke="#231f20" stroke-width="0.7" />
<text x="408.50" y="469.30" font-size="6.5" fill="#231f20" text-anchor="end" transform="rotate(-45 408.50 469.30)" stroke="#231f20" stroke-width="0.12" >150</text>
<line x1="426.10" y1="461.80" x2="426.10" y2="463.70" stroke="#231f20" stroke-width="0.7" />
<text x="427.00" y="469.30" font-size="6.5" fill="#231f20" text-anchor="end" transform="rotate(-45 427.00 469.30)" stroke="#231f20" stroke-width="0.12" >300</text>
<line x1="444.50" y1="461.80" x2="444.50" y2="463.70" stroke="#231f20" stroke-width="0.7" />
<text x="445.40" y="469.30" font-size="6.5" fill="#231f20" text-anchor="end" transform="rotate(-45 445.40 469.30)" stroke="#231f20" stroke-width="0.12" >V</text>
<line x1="462.80" y1="461.80" x2="462.80" y2="463.70" stroke="#231f20" stroke-width="0.7" />
<text x="463.70" y="469.30" font-size="6.5" fill="#231f20" text-anchor="end" transform="rotate(-45 463.70 469.30)" stroke="#231f20" stroke-width="0.12" >150</text>
<line x1="481.30" y1="461.80" x2="481.30" y2="463.70" stroke="#231f20" stroke-width="0.7" />
<text x="482.20" y="469.30" font-size="6.5" fill="#231f20" text-anchor="end" transform="rotate(-45 482.20 469.30)" stroke="#231f20" stroke-width="0.12" >300</text>
<text x="434.60" y="384.70" font-size="6.5" fill="#231f20" text-anchor="middle" stroke="#231f20" stroke-width="0.12" >Cytotoxic T-cell signature</text>
<text x="365.70" y="430.75" font-size="6.5" fill="#231f20" text-anchor="middle" transform="rotate(-90 365.70 430.75)" stroke="#231f20" stroke-width="0.12" >Signature score</text>
<line x1="382.40" y1="478.40" x2="426.10" y2="478.40" stroke="#231f20" stroke-width="0.9" />
<line x1="436.10" y1="478.40" x2="479.60" y2="478.40" stroke="#231f20" stroke-width="0.9" />
<text x="403.50" y="486.00" font-size="6.5" fill="#231f20" text-anchor="middle" stroke="#231f20" stroke-width="0.12" >2Q7D×2</text>
<text x="459.60" y="486.00" font-size="6.5" fill="#231f20" text-anchor="middle" stroke="#231f20" stroke-width="0.12" >2Q7D×3</text>
<text x="485.00" y="470.60" font-size="6.5" fill="#231f20" stroke="#231f20" stroke-width="0.12" >PC14374</text>
<text x="487.80" y="478.30" font-size="6.5" fill="#231f20" stroke="#231f20" stroke-width="0.12" >(mg/kg)</text>
<line x1="389.20" y1="429.20" x2="389.20" y2="429.70" stroke="#231f20" stroke-width="0.9" />
<line x1="386.00" y1="429.20" x2="392.40" y2="429.20" stroke="#231f20" stroke-width="0.9" />
<line x1="389.20" y1="438.50" x2="389.20" y2="441.20" stroke="#231f20" stroke-width="0.9" />
<line x1="386.00" y1="441.20" x2="392.40" y2="441.20" stroke="#231f20" stroke-width="0.9" />
<rect x="383.20" y="429.70" width="12.00" height="8.80" rx="0.3" fill="#a0a1a3" stroke="#1a1718" stroke-width="1.0"/>
<line x1="383.20" y1="430.40" x2="395.20" y2="430.40" stroke="#1a1718" stroke-width="1.0" />
<line x1="407.60" y1="411.20" x2="407.60" y2="414.20" stroke="#231f20" stroke-width="0.9" />
<line x1="404.40" y1="411.20" x2="410.80" y2="411.20" stroke="#231f20" stroke-width="0.9" />
<line x1="407.60" y1="426.60" x2="407.60" y2="430.00" stroke="#231f20" stroke-width="0.9" />
<line x1="404.40" y1="430.00" x2="410.80" y2="430.00" stroke="#231f20" stroke-width="0.9" />
<rect x="401.60" y="414.20" width="12.00" height="12.40" rx="0.3" fill="#6ab33e" stroke="#1a1718" stroke-width="1.0"/>
<line x1="401.60" y1="423.40" x2="413.60" y2="423.40" stroke="#1a1718" stroke-width="1.0" />
<line x1="426.10" y1="411.50" x2="426.10" y2="412.60" stroke="#231f20" stroke-width="0.9" />
<line x1="422.90" y1="411.50" x2="429.30" y2="411.50" stroke="#231f20" stroke-width="0.9" />
<rect x="420.10" y="412.60" width="12.00" height="5.10" rx="0.3" fill="#2f2b86" stroke="#1a1718" stroke-width="1.0"/>
<line x1="420.10" y1="416.80" x2="432.10" y2="416.80" stroke="#1a1718" stroke-width="1.0" />
<line x1="444.50" y1="440.50" x2="444.50" y2="442.30" stroke="#231f20" stroke-width="0.9" />
<line x1="441.30" y1="440.50" x2="447.70" y2="440.50" stroke="#231f20" stroke-width="0.9" />
<line x1="444.50" y1="447.70" x2="444.50" y2="448.30" stroke="#231f20" stroke-width="0.9" />
<line x1="441.30" y1="448.30" x2="447.70" y2="448.30" stroke="#231f20" stroke-width="0.9" />
<rect x="438.50" y="442.30" width="12.00" height="5.40" rx="0.3" fill="#a0a1a3" stroke="#1a1718" stroke-width="1.0"/>
<line x1="438.50" y1="446.50" x2="450.50" y2="446.50" stroke="#1a1718" stroke-width="1.0" />
<line x1="462.80" y1="425.10" x2="462.80" y2="428.20" stroke="#231f20" stroke-width="0.9" />
<line x1="459.60" y1="425.10" x2="466.00" y2="425.10" stroke="#231f20" stroke-width="0.9" />
<line x1="462.80" y1="443.10" x2="462.80" y2="447.20" stroke="#231f20" stroke-width="0.9" />
<line x1="459.60" y1="447.20" x2="466.00" y2="447.20" stroke="#231f20" stroke-width="0.9" />
<rect x="456.80" y="428.20" width="12.00" height="14.90" rx="0.3" fill="#6ab33e" stroke="#1a1718" stroke-width="1.0"/>
<line x1="456.80" y1="432.80" x2="468.80" y2="432.80" stroke="#1a1718" stroke-width="1.0" />
<line x1="481.30" y1="425.70" x2="481.30" y2="433.10" stroke="#231f20" stroke-width="0.9" />
<line x1="478.10" y1="425.70" x2="484.50" y2="425.70" stroke="#231f20" stroke-width="0.9" />
<line x1="481.30" y1="448.50" x2="481.30" y2="449.50" stroke="#231f20" stroke-width="0.9" />
<line x1="478.10" y1="449.50" x2="484.50" y2="449.50" stroke="#231f20" stroke-width="0.9" />
<rect x="475.30" y="433.10" width="12.00" height="15.40" rx="0.3" fill="#2f2b86" stroke="#1a1718" stroke-width="1.0"/>
<line x1="475.30" y1="443.10" x2="487.30" y2="443.10" stroke="#1a1718" stroke-width="1.0" />
<polyline points="388.80,402.30 388.80,399.40 389.40,398.80 425.50,398.80 426.10,399.40 426.10,402.30" fill="none" stroke="#3a3a3c" stroke-width="0.65" />
<text x="408.62" y="397.53" font-size="4.6" font-weight="bold" fill="#231f20" text-anchor="middle" letter-spacing="0.55">**</text>
<polyline points="388.80,408.90 388.80,406.00 389.40,405.40 407.00,405.40 407.60,406.00 407.60,408.90" fill="none" stroke="#3a3a3c" stroke-width="0.65" />
<text x="399.38" y="404.13" font-size="4.6" font-weight="bold" fill="#231f20" text-anchor="middle" letter-spacing="0.55">*</text>
<line x1="113.50" y1="503.50" x2="113.50" y2="565.40" stroke="#c4c6c8" stroke-width="0.6" />
<line x1="54.90" y1="505.80" x2="54.90" y2="569.60" stroke="#231f20" stroke-width="0.8" />
<line x1="54.50" y1="569.20" x2="171.50" y2="569.20" stroke="#231f20" stroke-width="0.8" />
<line x1="52.90" y1="569.20" x2="54.90" y2="569.20" stroke="#231f20" stroke-width="0.8" />
<text x="51.30" y="571.45" font-size="6.5" fill="#231f20" text-anchor="end" stroke="#231f20" stroke-width="0.12" >6</text>
<line x1="52.90" y1="553.45" x2="54.90" y2="553.45" stroke="#231f20" stroke-width="0.8" />
<text x="51.30" y="555.70" font-size="6.5" fill="#231f20" text-anchor="end" stroke="#231f20" stroke-width="0.12" >7</text>
<line x1="52.90" y1="537.70" x2="54.90" y2="537.70" stroke="#231f20" stroke-width="0.8" />
<text x="51.30" y="539.95" font-size="6.5" fill="#231f20" text-anchor="end" stroke="#231f20" stroke-width="0.12" >8</text>
<line x1="52.90" y1="521.95" x2="54.90" y2="521.95" stroke="#231f20" stroke-width="0.8" />
<text x="51.30" y="524.20" font-size="6.5" fill="#231f20" text-anchor="end" stroke="#231f20" stroke-width="0.12" >9</text>
<line x1="52.90" y1="506.20" x2="54.90" y2="506.20" stroke="#231f20" stroke-width="0.8" />
<text x="51.30" y="508.45" font-size="6.5" fill="#231f20" text-anchor="end" stroke="#231f20" stroke-width="0.12" >10</text>
<line x1="67.40" y1="569.20" x2="67.40" y2="571.10" stroke="#231f20" stroke-width="0.7" />
<text x="68.30" y="576.70" font-size="6.5" fill="#231f20" text-anchor="end" transform="rotate(-45 68.30 576.70)" stroke="#231f20" stroke-width="0.12" >V</text>
<line x1="85.70" y1="569.20" x2="85.70" y2="571.10" stroke="#231f20" stroke-width="0.7" />
<text x="86.60" y="576.70" font-size="6.5" fill="#231f20" text-anchor="end" transform="rotate(-45 86.60 576.70)" stroke="#231f20" stroke-width="0.12" >150</text>
<line x1="104.20" y1="569.20" x2="104.20" y2="571.10" stroke="#231f20" stroke-width="0.7" />
<text x="105.10" y="576.70" font-size="6.5" fill="#231f20" text-anchor="end" transform="rotate(-45 105.10 576.70)" stroke="#231f20" stroke-width="0.12" >300</text>
<line x1="122.80" y1="569.20" x2="122.80" y2="571.10" stroke="#231f20" stroke-width="0.7" />
<text x="123.70" y="576.70" font-size="6.5" fill="#231f20" text-anchor="end" transform="rotate(-45 123.70 576.70)" stroke="#231f20" stroke-width="0.12" >V</text>
<line x1="141.10" y1="569.20" x2="141.10" y2="571.10" stroke="#231f20" stroke-width="0.7" />
<text x="142.00" y="576.70" font-size="6.5" fill="#231f20" text-anchor="end" transform="rotate(-45 142.00 576.70)" stroke="#231f20" stroke-width="0.12" >150</text>
<line x1="159.50" y1="569.20" x2="159.50" y2="571.10" stroke="#231f20" stroke-width="0.7" />
<text x="160.40" y="576.70" font-size="6.5" fill="#231f20" text-anchor="end" transform="rotate(-45 160.40 576.70)" stroke="#231f20" stroke-width="0.12" >300</text>
<text x="113.60" y="497.30" font-size="6.5" fill="#231f20" text-anchor="middle" stroke="#231f20" stroke-width="0.12" >TIS signature</text>
<text x="40.70" y="537.70" font-size="6.5" fill="#231f20" text-anchor="middle" transform="rotate(-90 40.70 537.70)" stroke="#231f20" stroke-width="0.12" >Signature score</text>
<line x1="59.70" y1="585.60" x2="103.80" y2="585.60" stroke="#231f20" stroke-width="0.9" />
<line x1="114.20" y1="585.60" x2="157.70" y2="585.60" stroke="#231f20" stroke-width="0.9" />
<text x="81.00" y="593.20" font-size="6.5" fill="#231f20" text-anchor="middle" stroke="#231f20" stroke-width="0.12" >2Q7D×2</text>
<text x="137.70" y="593.20" font-size="6.5" fill="#231f20" text-anchor="middle" stroke="#231f20" stroke-width="0.12" >2Q7D×3</text>
<text x="164.30" y="578.00" font-size="6.5" fill="#231f20" stroke="#231f20" stroke-width="0.12" >PC14374</text>
<text x="166.50" y="585.70" font-size="6.5" fill="#231f20" stroke="#231f20" stroke-width="0.12" >(mg/kg)</text>
<line x1="67.40" y1="537.00" x2="67.40" y2="538.00" stroke="#231f20" stroke-width="0.9" />
<line x1="64.20" y1="537.00" x2="70.60" y2="537.00" stroke="#231f20" stroke-width="0.9" />
<line x1="67.40" y1="547.70" x2="67.40" y2="550.00" stroke="#231f20" stroke-width="0.9" />
<line x1="64.20" y1="550.00" x2="70.60" y2="550.00" stroke="#231f20" stroke-width="0.9" />
<rect x="61.40" y="538.00" width="12.00" height="9.70" rx="0.3" fill="#a0a1a3" stroke="#1a1718" stroke-width="1.0"/>
<line x1="61.40" y1="542.30" x2="73.40" y2="542.30" stroke="#1a1718" stroke-width="1.0" />
<line x1="85.70" y1="522.70" x2="85.70" y2="523.40" stroke="#231f20" stroke-width="0.9" />
<line x1="82.50" y1="522.70" x2="88.90" y2="522.70" stroke="#231f20" stroke-width="0.9" />
<line x1="85.70" y1="532.60" x2="85.70" y2="533.80" stroke="#231f20" stroke-width="0.9" />
<line x1="82.50" y1="533.80" x2="88.90" y2="533.80" stroke="#231f20" stroke-width="0.9" />
<rect x="79.70" y="523.40" width="12.00" height="9.20" rx="0.3" fill="#6ab33e" stroke="#1a1718" stroke-width="1.0"/>
<line x1="79.70" y1="529.20" x2="91.70" y2="529.20" stroke="#1a1718" stroke-width="1.0" />
<line x1="104.20" y1="518.80" x2="104.20" y2="519.20" stroke="#231f20" stroke-width="0.9" />
<line x1="101.00" y1="518.80" x2="107.40" y2="518.80" stroke="#231f20" stroke-width="0.9" />
<line x1="104.20" y1="522.30" x2="104.20" y2="525.10" stroke="#231f20" stroke-width="0.9" />
<line x1="101.00" y1="525.10" x2="107.40" y2="525.10" stroke="#231f20" stroke-width="0.9" />
<rect x="98.20" y="519.20" width="12.00" height="3.10" rx="0.3" fill="#2f2b86" stroke="#1a1718" stroke-width="1.0"/>
<line x1="122.80" y1="543.50" x2="122.80" y2="545.40" stroke="#231f20" stroke-width="0.9" />
<line x1="119.60" y1="543.50" x2="126.00" y2="543.50" stroke="#231f20" stroke-width="0.9" />
<line x1="122.80" y1="551.50" x2="122.80" y2="555.70" stroke="#231f20" stroke-width="0.9" />
<line x1="119.60" y1="555.70" x2="126.00" y2="555.70" stroke="#231f20" stroke-width="0.9" />
<rect x="116.80" y="545.40" width="12.00" height="6.10" rx="0.3" fill="#a0a1a3" stroke="#1a1718" stroke-width="1.0"/>
<line x1="116.80" y1="548.50" x2="128.80" y2="548.50" stroke="#1a1718" stroke-width="1.0" />
<line x1="141.10" y1="532.30" x2="141.10" y2="536.90" stroke="#231f20" stroke-width="0.9" />
<line x1="137.90" y1="532.30" x2="144.30" y2="532.30" stroke="#231f20" stroke-width="0.9" />
<line x1="141.10" y1="545.40" x2="141.10" y2="548.20" stroke="#231f20" stroke-width="0.9" />
<line x1="137.90" y1="548.20" x2="144.30" y2="548.20" stroke="#231f20" stroke-width="0.9" />
<rect x="135.10" y="536.90" width="12.00" height="8.50" rx="0.3" fill="#6ab33e" stroke="#1a1718" stroke-width="1.0"/>
<line x1="135.10" y1="540.80" x2="147.10" y2="540.80" stroke="#1a1718" stroke-width="1.0" />
<line x1="159.50" y1="534.30" x2="159.50" y2="535.80" stroke="#231f20" stroke-width="0.9" />
<line x1="156.30" y1="534.30" x2="162.70" y2="534.30" stroke="#231f20" stroke-width="0.9" />
<rect x="153.50" y="535.80" width="12.00" height="18.50" rx="0.3" fill="#2f2b86" stroke="#1a1718" stroke-width="1.0"/>
<line x1="153.50" y1="548.50" x2="165.50" y2="548.50" stroke="#1a1718" stroke-width="1.0" />
<polyline points="67.40,512.70 67.40,509.80 68.00,509.20 103.70,509.20 104.30,509.80 104.30,512.70" fill="none" stroke="#3a3a3c" stroke-width="0.65" />
<text x="87.03" y="507.93" font-size="4.6" font-weight="bold" fill="#231f20" text-anchor="middle" letter-spacing="0.55">**</text>
<polyline points="67.40,520.10 67.40,517.20 68.00,516.60 85.20,516.60 85.80,517.20 85.80,520.10" fill="none" stroke="#3a3a3c" stroke-width="0.65" />
<text x="77.78" y="515.33" font-size="4.6" font-weight="bold" fill="#231f20" text-anchor="middle" letter-spacing="0.55">**</text>
<line x1="274.80" y1="503.50" x2="274.80" y2="565.40" stroke="#c4c6c8" stroke-width="0.6" />
<line x1="216.70" y1="505.80" x2="216.70" y2="569.60" stroke="#231f20" stroke-width="0.8" />
<line x1="216.30" y1="569.20" x2="333.80" y2="569.20" stroke="#231f20" stroke-width="0.8" />
<line x1="214.70" y1="569.20" x2="216.70" y2="569.20" stroke="#231f20" stroke-width="0.8" />
<text x="213.10" y="571.45" font-size="6.5" fill="#231f20" text-anchor="end" stroke="#231f20" stroke-width="0.12" >6</text>
<line x1="214.70" y1="556.60" x2="216.70" y2="556.60" stroke="#231f20" stroke-width="0.8" />
<text x="213.10" y="558.85" font-size="6.5" fill="#231f20" text-anchor="end" stroke="#231f20" stroke-width="0.12" >7</text>
<line x1="214.70" y1="544.00" x2="216.70" y2="544.00" stroke="#231f20" stroke-width="0.8" />
<text x="213.10" y="546.25" font-size="6.5" fill="#231f20" text-anchor="end" stroke="#231f20" stroke-width="0.12" >8</text>
<line x1="214.70" y1="531.40" x2="216.70" y2="531.40" stroke="#231f20" stroke-width="0.8" />
<text x="213.10" y="533.65" font-size="6.5" fill="#231f20" text-anchor="end" stroke="#231f20" stroke-width="0.12" >9</text>
<line x1="214.70" y1="518.80" x2="216.70" y2="518.80" stroke="#231f20" stroke-width="0.8" />
<text x="213.10" y="521.05" font-size="6.5" fill="#231f20" text-anchor="end" stroke="#231f20" stroke-width="0.12" >10</text>
<line x1="214.70" y1="506.20" x2="216.70" y2="506.20" stroke="#231f20" stroke-width="0.8" />
<text x="213.10" y="508.45" font-size="6.5" fill="#231f20" text-anchor="end" stroke="#231f20" stroke-width="0.12" >11</text>
<line x1="229.20" y1="569.20" x2="229.20" y2="571.10" stroke="#231f20" stroke-width="0.7" />
<text x="230.10" y="576.70" font-size="6.5" fill="#231f20" text-anchor="end" transform="rotate(-45 230.10 576.70)" stroke="#231f20" stroke-width="0.12" >V</text>
<line x1="247.60" y1="569.20" x2="247.60" y2="571.10" stroke="#231f20" stroke-width="0.7" />
<text x="248.50" y="576.70" font-size="6.5" fill="#231f20" text-anchor="end" transform="rotate(-45 248.50 576.70)" stroke="#231f20" stroke-width="0.12" >150</text>
<line x1="266.10" y1="569.20" x2="266.10" y2="571.10" stroke="#231f20" stroke-width="0.7" />
<text x="267.00" y="576.70" font-size="6.5" fill="#231f20" text-anchor="end" transform="rotate(-45 267.00 576.70)" stroke="#231f20" stroke-width="0.12" >300</text>
<line x1="284.50" y1="569.20" x2="284.50" y2="571.10" stroke="#231f20" stroke-width="0.7" />
<text x="285.40" y="576.70" font-size="6.5" fill="#231f20" text-anchor="end" transform="rotate(-45 285.40 576.70)" stroke="#231f20" stroke-width="0.12" >V</text>
<line x1="302.90" y1="569.20" x2="302.90" y2="571.10" stroke="#231f20" stroke-width="0.7" />
<text x="303.80" y="576.70" font-size="6.5" fill="#231f20" text-anchor="end" transform="rotate(-45 303.80 576.70)" stroke="#231f20" stroke-width="0.12" >150</text>
<line x1="321.40" y1="569.20" x2="321.40" y2="571.10" stroke="#231f20" stroke-width="0.7" />
<text x="322.30" y="576.70" font-size="6.5" fill="#231f20" text-anchor="end" transform="rotate(-45 322.30 576.70)" stroke="#231f20" stroke-width="0.12" >300</text>
<text x="275.30" y="497.30" font-size="6.5" fill="#231f20" text-anchor="middle" stroke="#231f20" stroke-width="0.12" >PD1 signature</text>
<text x="202.50" y="537.70" font-size="6.5" fill="#231f20" text-anchor="middle" transform="rotate(-90 202.50 537.70)" stroke="#231f20" stroke-width="0.12" >Signature score</text>
<line x1="221.90" y1="585.60" x2="265.80" y2="585.60" stroke="#231f20" stroke-width="0.9" />
<line x1="276.20" y1="585.60" x2="319.20" y2="585.60" stroke="#231f20" stroke-width="0.9" />
<text x="243.10" y="593.20" font-size="6.5" fill="#231f20" text-anchor="middle" stroke="#231f20" stroke-width="0.12" >2Q7D×2</text>
<text x="299.45" y="593.20" font-size="6.5" fill="#231f20" text-anchor="middle" stroke="#231f20" stroke-width="0.12" >2Q7D×3</text>
<text x="326.20" y="578.00" font-size="6.5" fill="#231f20" stroke="#231f20" stroke-width="0.12" >PC14374</text>
<text x="328.50" y="585.70" font-size="6.5" fill="#231f20" stroke="#231f20" stroke-width="0.12" >(mg/kg)</text>
<line x1="229.20" y1="530.00" x2="229.20" y2="530.80" stroke="#231f20" stroke-width="0.9" />
<line x1="226.00" y1="530.00" x2="232.40" y2="530.00" stroke="#231f20" stroke-width="0.9" />
<line x1="229.20" y1="537.40" x2="229.20" y2="538.90" stroke="#231f20" stroke-width="0.9" />
<line x1="226.00" y1="538.90" x2="232.40" y2="538.90" stroke="#231f20" stroke-width="0.9" />
<rect x="223.20" y="530.80" width="12.00" height="6.60" rx="0.3" fill="#a0a1a3" stroke="#1a1718" stroke-width="1.0"/>
<line x1="223.20" y1="533.80" x2="235.20" y2="533.80" stroke="#1a1718" stroke-width="1.0" />
<line x1="247.60" y1="516.50" x2="247.60" y2="519.20" stroke="#231f20" stroke-width="0.9" />
<line x1="244.40" y1="516.50" x2="250.80" y2="516.50" stroke="#231f20" stroke-width="0.9" />
<line x1="247.60" y1="527.70" x2="247.60" y2="528.50" stroke="#231f20" stroke-width="0.9" />
<line x1="244.40" y1="528.50" x2="250.80" y2="528.50" stroke="#231f20" stroke-width="0.9" />
<rect x="241.60" y="519.20" width="12.00" height="8.50" rx="0.3" fill="#6ab33e" stroke="#1a1718" stroke-width="1.0"/>
<line x1="241.60" y1="524.60" x2="253.60" y2="524.60" stroke="#1a1718" stroke-width="1.0" />
<line x1="266.10" y1="515.10" x2="266.10" y2="517.40" stroke="#231f20" stroke-width="0.9" />
<line x1="262.90" y1="515.10" x2="269.30" y2="515.10" stroke="#231f20" stroke-width="0.9" />
<line x1="266.10" y1="522.30" x2="266.10" y2="524.20" stroke="#231f20" stroke-width="0.9" />
<line x1="262.90" y1="524.20" x2="269.30" y2="524.20" stroke="#231f20" stroke-width="0.9" />
<rect x="260.10" y="517.40" width="12.00" height="4.90" rx="0.3" fill="#2f2b86" stroke="#1a1718" stroke-width="1.0"/>
<line x1="260.10" y1="521.60" x2="272.10" y2="521.60" stroke="#1a1718" stroke-width="1.0" />
<line x1="284.50" y1="531.20" x2="284.50" y2="537.40" stroke="#231f20" stroke-width="0.9" />
<line x1="281.30" y1="531.20" x2="287.70" y2="531.20" stroke="#231f20" stroke-width="0.9" />
<rect x="278.50" y="537.40" width="12.00" height="11.10" rx="0.3" fill="#a0a1a3" stroke="#1a1718" stroke-width="1.0"/>
<line x1="278.50" y1="545.10" x2="290.50" y2="545.10" stroke="#1a1718" stroke-width="1.0" />
<line x1="302.90" y1="524.60" x2="302.90" y2="530.80" stroke="#231f20" stroke-width="0.9" />
<line x1="299.70" y1="524.60" x2="306.10" y2="524.60" stroke="#231f20" stroke-width="0.9" />
<line x1="302.90" y1="546.60" x2="302.90" y2="551.10" stroke="#231f20" stroke-width="0.9" />
<line x1="299.70" y1="551.10" x2="306.10" y2="551.10" stroke="#231f20" stroke-width="0.9" />
<rect x="296.90" y="530.80" width="12.00" height="15.80" rx="0.3" fill="#6ab33e" stroke="#1a1718" stroke-width="1.0"/>
<line x1="296.90" y1="539.20" x2="308.90" y2="539.20" stroke="#1a1718" stroke-width="1.0" />
<line x1="321.40" y1="522.80" x2="321.40" y2="527.20" stroke="#231f20" stroke-width="0.9" />
<line x1="318.20" y1="522.80" x2="324.60" y2="522.80" stroke="#231f20" stroke-width="0.9" />
<line x1="321.40" y1="553.40" x2="321.40" y2="558.20" stroke="#231f20" stroke-width="0.9" />
<line x1="318.20" y1="558.20" x2="324.60" y2="558.20" stroke="#231f20" stroke-width="0.9" />
<rect x="315.40" y="527.20" width="12.00" height="26.20" rx="0.3" fill="#2f2b86" stroke="#1a1718" stroke-width="1.0"/>
<line x1="315.40" y1="545.10" x2="327.40" y2="545.10" stroke="#1a1718" stroke-width="1.0" />
<polyline points="228.80,508.10 228.80,505.20 229.40,504.60 265.90,504.60 266.50,505.20 266.50,508.10" fill="none" stroke="#3a3a3c" stroke-width="0.65" />
<text x="248.83" y="503.33" font-size="4.6" font-weight="bold" fill="#231f20" text-anchor="middle" letter-spacing="0.55">**</text>
<polyline points="228.80,515.00 228.80,512.10 229.40,511.50 247.00,511.50 247.60,512.10 247.60,515.00" fill="none" stroke="#3a3a3c" stroke-width="0.65" />
<text x="239.38" y="510.23" font-size="4.6" font-weight="bold" fill="#231f20" text-anchor="middle" letter-spacing="0.55">*</text>
<line x1="437.00" y1="503.50" x2="437.00" y2="565.40" stroke="#c4c6c8" stroke-width="0.6" />
<line x1="378.70" y1="505.80" x2="378.70" y2="569.60" stroke="#231f20" stroke-width="0.8" />
<line x1="378.30" y1="569.20" x2="496.10" y2="569.20" stroke="#231f20" stroke-width="0.8" />
<line x1="376.70" y1="569.20" x2="378.70" y2="569.20" stroke="#231f20" stroke-width="0.8" />
<text x="375.10" y="571.45" font-size="6.5" fill="#231f20" text-anchor="end" stroke="#231f20" stroke-width="0.12" >6</text>
<line x1="376.70" y1="553.45" x2="378.70" y2="553.45" stroke="#231f20" stroke-width="0.8" />
<text x="375.10" y="555.70" font-size="6.5" fill="#231f20" text-anchor="end" stroke="#231f20" stroke-width="0.12" >7</text>
<line x1="376.70" y1="537.70" x2="378.70" y2="537.70" stroke="#231f20" stroke-width="0.8" />
<text x="375.10" y="539.95" font-size="6.5" fill="#231f20" text-anchor="end" stroke="#231f20" stroke-width="0.12" >8</text>
<line x1="376.70" y1="521.95" x2="378.70" y2="521.95" stroke="#231f20" stroke-width="0.8" />
<text x="375.10" y="524.20" font-size="6.5" fill="#231f20" text-anchor="end" stroke="#231f20" stroke-width="0.12" >9</text>
<line x1="376.70" y1="506.20" x2="378.70" y2="506.20" stroke="#231f20" stroke-width="0.8" />
<text x="375.10" y="508.45" font-size="6.5" fill="#231f20" text-anchor="end" stroke="#231f20" stroke-width="0.12" >10</text>
<line x1="391.20" y1="569.20" x2="391.20" y2="571.10" stroke="#231f20" stroke-width="0.7" />
<text x="392.10" y="576.70" font-size="6.5" fill="#231f20" text-anchor="end" transform="rotate(-45 392.10 576.70)" stroke="#231f20" stroke-width="0.12" >V</text>
<line x1="409.50" y1="569.20" x2="409.50" y2="571.10" stroke="#231f20" stroke-width="0.7" />
<text x="410.40" y="576.70" font-size="6.5" fill="#231f20" text-anchor="end" transform="rotate(-45 410.40 576.70)" stroke="#231f20" stroke-width="0.12" >150</text>
<line x1="428.10" y1="569.20" x2="428.10" y2="571.10" stroke="#231f20" stroke-width="0.7" />
<text x="429.00" y="576.70" font-size="6.5" fill="#231f20" text-anchor="end" transform="rotate(-45 429.00 576.70)" stroke="#231f20" stroke-width="0.12" >300</text>
<line x1="446.50" y1="569.20" x2="446.50" y2="571.10" stroke="#231f20" stroke-width="0.7" />
<text x="447.40" y="576.70" font-size="6.5" fill="#231f20" text-anchor="end" transform="rotate(-45 447.40 576.70)" stroke="#231f20" stroke-width="0.12" >V</text>
<line x1="465.00" y1="569.20" x2="465.00" y2="571.10" stroke="#231f20" stroke-width="0.7" />
<text x="465.90" y="576.70" font-size="6.5" fill="#231f20" text-anchor="end" transform="rotate(-45 465.90 576.70)" stroke="#231f20" stroke-width="0.12" >150</text>
<line x1="483.50" y1="569.20" x2="483.50" y2="571.10" stroke="#231f20" stroke-width="0.7" />
<text x="484.40" y="576.70" font-size="6.5" fill="#231f20" text-anchor="end" transform="rotate(-45 484.40 576.70)" stroke="#231f20" stroke-width="0.12" >300</text>
<text x="437.30" y="497.30" font-size="6.5" fill="#231f20" text-anchor="middle" stroke="#231f20" stroke-width="0.12" >PDL1 signature</text>
<text x="364.70" y="537.70" font-size="6.5" fill="#231f20" text-anchor="middle" transform="rotate(-90 364.70 537.70)" stroke="#231f20" stroke-width="0.12" >Signature score</text>
<line x1="383.50" y1="585.60" x2="427.30" y2="585.60" stroke="#231f20" stroke-width="0.9" />
<line x1="438.10" y1="585.60" x2="481.60" y2="585.60" stroke="#231f20" stroke-width="0.9" />
<text x="404.65" y="593.20" font-size="6.5" fill="#231f20" text-anchor="middle" stroke="#231f20" stroke-width="0.12" >2Q7D×2</text>
<text x="461.60" y="593.20" font-size="6.5" fill="#231f20" text-anchor="middle" stroke="#231f20" stroke-width="0.12" >2Q7D×3</text>
<text x="488.10" y="578.00" font-size="6.5" fill="#231f20" stroke="#231f20" stroke-width="0.12" >PC14374</text>
<text x="490.40" y="585.70" font-size="6.5" fill="#231f20" stroke="#231f20" stroke-width="0.12" >(mg/kg)</text>
<line x1="391.20" y1="533.60" x2="391.20" y2="534.60" stroke="#231f20" stroke-width="0.9" />
<line x1="388.00" y1="533.60" x2="394.40" y2="533.60" stroke="#231f20" stroke-width="0.9" />
<line x1="391.20" y1="546.50" x2="391.20" y2="550.30" stroke="#231f20" stroke-width="0.9" />
<line x1="388.00" y1="550.30" x2="394.40" y2="550.30" stroke="#231f20" stroke-width="0.9" />
<rect x="385.20" y="534.60" width="12.00" height="11.90" rx="0.3" fill="#a0a1a3" stroke="#1a1718" stroke-width="1.0"/>
<line x1="385.20" y1="535.40" x2="397.20" y2="535.40" stroke="#1a1718" stroke-width="1.0" />
<line x1="409.50" y1="523.10" x2="409.50" y2="527.70" stroke="#231f20" stroke-width="0.9" />
<line x1="406.30" y1="523.10" x2="412.70" y2="523.10" stroke="#231f20" stroke-width="0.9" />
<line x1="409.50" y1="536.20" x2="409.50" y2="539.20" stroke="#231f20" stroke-width="0.9" />
<line x1="406.30" y1="539.20" x2="412.70" y2="539.20" stroke="#231f20" stroke-width="0.9" />
<rect x="403.50" y="527.70" width="12.00" height="8.50" rx="0.3" fill="#6ab33e" stroke="#1a1718" stroke-width="1.0"/>
<line x1="403.50" y1="533.10" x2="415.50" y2="533.10" stroke="#1a1718" stroke-width="1.0" />
<line x1="428.10" y1="515.40" x2="428.10" y2="516.20" stroke="#231f20" stroke-width="0.9" />
<line x1="424.90" y1="515.40" x2="431.30" y2="515.40" stroke="#231f20" stroke-width="0.9" />
<line x1="428.10" y1="524.90" x2="428.10" y2="526.90" stroke="#231f20" stroke-width="0.9" />
<line x1="424.90" y1="526.90" x2="431.30" y2="526.90" stroke="#231f20" stroke-width="0.9" />
<rect x="422.10" y="516.20" width="12.00" height="8.70" rx="0.3" fill="#2f2b86" stroke="#1a1718" stroke-width="1.0"/>
<line x1="422.10" y1="524.20" x2="434.10" y2="524.20" stroke="#1a1718" stroke-width="1.0" />
<line x1="446.50" y1="544.90" x2="446.50" y2="546.50" stroke="#231f20" stroke-width="0.9" />
<line x1="443.30" y1="544.90" x2="449.70" y2="544.90" stroke="#231f20" stroke-width="0.9" />
<line x1="446.50" y1="554.30" x2="446.50" y2="555.10" stroke="#231f20" stroke-width="0.9" />
<line x1="443.30" y1="555.10" x2="449.70" y2="555.10" stroke="#231f20" stroke-width="0.9" />
<rect x="440.50" y="546.50" width="12.00" height="7.80" rx="0.3" fill="#a0a1a3" stroke="#1a1718" stroke-width="1.0"/>
<line x1="440.50" y1="551.20" x2="452.50" y2="551.20" stroke="#1a1718" stroke-width="1.0" />
<line x1="465.00" y1="535.40" x2="465.00" y2="537.20" stroke="#231f20" stroke-width="0.9" />
<line x1="461.80" y1="535.40" x2="468.20" y2="535.40" stroke="#231f20" stroke-width="0.9" />
<line x1="465.00" y1="550.50" x2="465.00" y2="552.30" stroke="#231f20" stroke-width="0.9" />
<line x1="461.80" y1="552.30" x2="468.20" y2="552.30" stroke="#231f20" stroke-width="0.9" />
<rect x="459.00" y="537.20" width="12.00" height="13.30" rx="0.3" fill="#6ab33e" stroke="#1a1718" stroke-width="1.0"/>
<line x1="459.00" y1="538.00" x2="471.00" y2="538.00" stroke="#1a1718" stroke-width="1.0" />
<line x1="483.50" y1="534.30" x2="483.50" y2="536.20" stroke="#231f20" stroke-width="0.9" />
<line x1="480.30" y1="534.30" x2="486.70" y2="534.30" stroke="#231f20" stroke-width="0.9" />
<line x1="483.50" y1="562.00" x2="483.50" y2="563.10" stroke="#231f20" stroke-width="0.9" />
<line x1="480.30" y1="563.10" x2="486.70" y2="563.10" stroke="#231f20" stroke-width="0.9" />
<rect x="477.50" y="536.20" width="12.00" height="25.80" rx="0.3" fill="#2f2b86" stroke="#1a1718" stroke-width="1.0"/>
<line x1="477.50" y1="556.20" x2="489.50" y2="556.20" stroke="#1a1718" stroke-width="1.0" />
<polyline points="391.20,511.20 391.20,508.30 391.80,507.70 427.50,507.70 428.10,508.30 428.10,511.20" fill="none" stroke="#3a3a3c" stroke-width="0.65" />
<text x="410.82" y="506.43" font-size="4.6" font-weight="bold" fill="#231f20" text-anchor="middle" letter-spacing="0.55">*</text>
<text transform="translate(1.30 613.90) scale(0.93 1)" font-size="17.4" font-weight="bold" fill="#000">D</text>
<text x="113.80" y="622.30" font-size="6.5" fill="#231f20" text-anchor="middle" stroke="#231f20" stroke-width="0.12" >PC14374 and anti–PD-1 combination</text>
<line x1="115.30" y1="627.50" x2="115.30" y2="724.20" stroke="#4547ad" stroke-width="0.7" stroke-dasharray="0.8 1.35"/>
<polyline points="37.30,638.40 82.62,638.40 82.62,646.98 91.23,646.98 91.23,655.56 95.38,655.56 95.38,664.14 122.70,664.14 122.70,672.72 157.60,672.72 157.60,681.30 178.60,681.30" fill="none" stroke="#6a2c91" stroke-width="1.25" stroke-linejoin="miter" />
<polyline points="37.30,638.40 64.15,638.40 64.15,646.98 65.38,646.98 65.38,655.56 66.31,655.56 66.31,672.72 69.69,672.72 69.69,681.30 70.77,681.30 70.77,689.88 71.54,689.88 71.54,698.46 73.08,698.46 73.08,707.04 74.62,707.04 74.62,715.62 178.60,715.62" fill="none" stroke="#3f8f2e" stroke-width="1.25" stroke-linejoin="miter" />
<polyline points="37.30,638.40 62.00,638.40 62.00,646.98 62.62,646.98 62.62,655.56 63.23,655.56 63.23,664.14 65.69,664.14 65.69,672.72 68.46,672.72 68.46,681.30 73.38,681.30 73.38,689.88 119.60,689.88 119.60,698.46 178.60,698.46" fill="none" stroke="#d9222a" stroke-width="1.25" stroke-linejoin="miter" />
<polyline points="37.30,638.40 55.38,638.40 55.38,646.98 58.00,646.98 58.00,664.14 61.54,664.14 61.54,672.72 62.00,672.72 62.00,681.30 62.62,681.30 62.62,689.88 63.38,689.88 63.38,698.46 64.15,698.46 64.15,707.04 66.92,707.04 66.92,715.62 68.46,715.62 68.46,724.20" fill="none" stroke="#f7941d" stroke-width="1.25" stroke-linejoin="miter" />
<polyline points="37.30,638.40 54.62,638.40 54.62,646.98 55.08,646.98 55.08,655.56 55.54,655.56 55.54,664.14 57.23,664.14 57.23,672.72 58.00,672.72 58.00,681.30 58.77,681.30 58.77,689.88 59.69,689.88 59.69,698.46 63.85,698.46 63.85,707.04 178.60,707.04" fill="none" stroke="#2e3192" stroke-width="1.25" stroke-linejoin="miter" />
<polyline points="37.30,638.40 50.77,638.40 50.77,646.98 51.54,646.98 51.54,655.56 52.00,655.56 52.00,664.14 52.62,664.14 52.62,672.72 53.08,672.72 53.08,681.30 53.54,681.30 53.54,689.88 54.15,689.88 54.15,698.46 54.62,698.46 54.62,707.04 55.85,707.04 55.85,715.62 56.46,715.62 56.46,724.20" fill="none" stroke="#111111" stroke-width="1.25" stroke-linejoin="miter" />
<line x1="178.60" y1="680.10" x2="178.60" y2="681.60" stroke="#231f20" stroke-width="0.7" />
<line x1="178.60" y1="697.26" x2="178.60" y2="698.76" stroke="#231f20" stroke-width="0.7" />
<line x1="178.60" y1="705.84" x2="178.60" y2="707.34" stroke="#231f20" stroke-width="0.7" />
<line x1="178.60" y1="714.42" x2="178.60" y2="715.92" stroke="#231f20" stroke-width="0.7" />
<line x1="37.30" y1="629.30" x2="37.30" y2="724.60" stroke="#231f20" stroke-width="0.8" />
<line x1="36.90" y1="724.20" x2="190.50" y2="724.20" stroke="#231f20" stroke-width="0.8" />
<line x1="33.70" y1="724.20" x2="37.30" y2="724.20" stroke="#231f20" stroke-width="0.8" />
<line x1="35.30" y1="715.62" x2="37.30" y2="715.62" stroke="#231f20" stroke-width="0.7" />
<line x1="35.30" y1="707.04" x2="37.30" y2="707.04" stroke="#231f20" stroke-width="0.7" />
<line x1="35.30" y1="698.46" x2="37.30" y2="698.46" stroke="#231f20" stroke-width="0.7" />
<line x1="35.30" y1="689.88" x2="37.30" y2="689.88" stroke="#231f20" stroke-width="0.7" />
<line x1="33.70" y1="681.30" x2="37.30" y2="681.30" stroke="#231f20" stroke-width="0.8" />
<line x1="35.30" y1="672.72" x2="37.30" y2="672.72" stroke="#231f20" stroke-width="0.7" />
<line x1="35.30" y1="664.14" x2="37.30" y2="664.14" stroke="#231f20" stroke-width="0.7" />
<line x1="35.30" y1="655.56" x2="37.30" y2="655.56" stroke="#231f20" stroke-width="0.7" />
<line x1="35.30" y1="646.98" x2="37.30" y2="646.98" stroke="#231f20" stroke-width="0.7" />
<line x1="33.70" y1="638.40" x2="37.30" y2="638.40" stroke="#231f20" stroke-width="0.8" />
<text x="32.40" y="726.50" font-size="6.5" fill="#231f20" text-anchor="end" stroke="#231f20" stroke-width="0.12" >0</text>
<text x="32.40" y="683.60" font-size="6.5" fill="#231f20" text-anchor="end" stroke="#231f20" stroke-width="0.12" >50</text>
<text x="32.40" y="640.70" font-size="6.5" fill="#231f20" text-anchor="end" stroke="#231f20" stroke-width="0.12" >100</text>
<line x1="37.30" y1="724.20" x2="37.30" y2="726.80" stroke="#231f20" stroke-width="0.8" />
<text x="37.30" y="734.90" font-size="6.5" fill="#231f20" text-anchor="middle" stroke="#231f20" stroke-width="0.12" >0</text>
<line x1="75.50" y1="724.20" x2="75.50" y2="726.80" stroke="#231f20" stroke-width="0.8" />
<text x="75.50" y="734.90" font-size="6.5" fill="#231f20" text-anchor="middle" stroke="#231f20" stroke-width="0.12" >50</text>
<line x1="113.70" y1="724.20" x2="113.70" y2="726.80" stroke="#231f20" stroke-width="0.8" />
<text x="113.70" y="734.90" font-size="6.5" fill="#231f20" text-anchor="middle" stroke="#231f20" stroke-width="0.12" >100</text>
<line x1="151.90" y1="724.20" x2="151.90" y2="726.80" stroke="#231f20" stroke-width="0.8" />
<text x="151.90" y="734.90" font-size="6.5" fill="#231f20" text-anchor="middle" stroke="#231f20" stroke-width="0.12" >150</text>
<line x1="190.10" y1="724.20" x2="190.10" y2="726.80" stroke="#231f20" stroke-width="0.8" />
<text x="190.10" y="734.90" font-size="6.5" fill="#231f20" text-anchor="middle" stroke="#231f20" stroke-width="0.12" >200</text>
<text x="113.80" y="743.90" font-size="6.5" fill="#231f20" text-anchor="middle" stroke="#231f20" stroke-width="0.12" >Days</text>
<text x="17.00" y="677.70" font-size="6.5" fill="#231f20" text-anchor="middle" transform="rotate(-90 17.00 677.70)" stroke="#231f20" stroke-width="0.12" >Percent survival (%)</text>
<text x="121.00" y="649.20" font-size="6.5" fill="#231f20" stroke="#231f20" stroke-width="0.12" >Log-rank test <tspan font-style="italic">P</tspan> &lt; 0.0001</text>
<line x1="26.20" y1="751.00" x2="34.50" y2="751.00" stroke="#111111" stroke-width="1.25" />
<line x1="30.35" y1="749.90" x2="30.35" y2="751.20" stroke="#231f20" stroke-width="0.7" />
<text x="37.50" y="753.20" font-size="6.5" fill="#231f20" stroke="#231f20" stroke-width="0.12" >Vehicle</text>
<line x1="26.20" y1="761.60" x2="34.50" y2="761.60" stroke="#2e3192" stroke-width="1.25" />
<line x1="30.35" y1="760.50" x2="30.35" y2="761.80" stroke="#231f20" stroke-width="0.7" />
<text x="37.50" y="763.80" font-size="6.5" fill="#231f20" stroke="#231f20" stroke-width="0.12" >Anti–PD-1 200 µg Q3D</text>
<line x1="26.20" y1="771.30" x2="34.50" y2="771.30" stroke="#f7941d" stroke-width="1.25" />
<line x1="30.35" y1="770.20" x2="30.35" y2="771.50" stroke="#231f20" stroke-width="0.7" />
<text x="37.50" y="773.40" font-size="6.5" fill="#231f20" stroke="#231f20" stroke-width="0.12" >PC14374 75 mg/kg 2Q7D</text>
<line x1="26.20" y1="781.00" x2="34.50" y2="781.00" stroke="#3f8f2e" stroke-width="1.25" />
<line x1="30.35" y1="779.90" x2="30.35" y2="781.20" stroke="#231f20" stroke-width="0.7" />
<text x="37.50" y="783.10" font-size="6.5" fill="#231f20" stroke="#231f20" stroke-width="0.12" >PC14374 150 mg/kg 2Q7D</text>
<line x1="136.40" y1="754.90" x2="144.60" y2="754.90" stroke="#d9222a" stroke-width="1.25" />
<line x1="140.50" y1="753.80" x2="140.50" y2="755.10" stroke="#231f20" stroke-width="0.7" />
<text x="146.90" y="757.20" font-size="6.5" fill="#231f20" stroke="#231f20" stroke-width="0.12" >PC14374 75 mg/kg + anti–PD-1</text>
<line x1="136.40" y1="764.40" x2="144.60" y2="764.40" stroke="#6a2c91" stroke-width="1.25" />
<line x1="140.50" y1="763.30" x2="140.50" y2="764.60" stroke="#231f20" stroke-width="0.7" />
<text x="146.90" y="766.70" font-size="6.5" fill="#231f20" stroke="#231f20" stroke-width="0.12" >PC14374 150 mg/kg + anti–PD-1</text>
<text transform="translate(303.70 613.90) scale(0.93 1)" font-size="17.4" font-weight="bold" fill="#000">E</text>
<text x="413.40" y="622.30" font-size="6.5" fill="#231f20" text-anchor="middle" stroke="#231f20" stroke-width="0.12" >PC14374 administration with CD8 depletion</text>
<line x1="365.40" y1="628.60" x2="365.40" y2="724.50" stroke="#4547ad" stroke-width="0.7" stroke-dasharray="0.8 1.35"/>
<polyline points="336.40,638.40 367.93,638.40 367.93,664.23 374.55,664.23 374.55,672.84 386.40,672.84 386.40,681.45 412.50,681.45 412.50,690.06 458.70,690.06 458.70,698.67 490.50,698.67 490.50,698.67" fill="none" stroke="#d9222a" stroke-width="1.25" stroke-linejoin="miter" stroke-dasharray="2.6 1.5"/>
<polyline points="336.40,638.40 354.55,638.40 354.55,647.01 360.03,647.01 360.03,655.62 361.31,655.62 361.31,664.23 362.20,664.23 362.20,672.84 363.09,672.84 363.09,681.45 364.11,681.45 364.11,698.67 371.75,698.67 371.75,707.28 376.59,707.28 376.59,715.89 455.50,715.89 455.50,724.50" fill="none" stroke="#6a2c91" stroke-width="1.25" stroke-linejoin="miter" />
<polyline points="336.40,638.40 357.48,638.40 357.48,647.01 361.56,647.01 361.56,655.62 367.68,655.62 367.68,664.23 368.57,664.23 368.57,672.84 369.20,672.84 369.20,681.45 371.75,681.45 371.75,690.06 375.57,690.06 375.57,698.67 377.48,698.67 377.48,707.28 389.84,707.28 389.84,715.89 420.00,715.89 420.00,724.50" fill="none" stroke="#3f8f2e" stroke-width="1.25" stroke-linejoin="miter" />
<polyline points="336.40,638.40 355.83,638.40 355.83,647.01 360.29,647.01 360.29,655.62 361.31,655.62 361.31,664.23 362.20,664.23 362.20,672.84 363.47,672.84 363.47,681.45 364.36,681.45 364.36,690.06 365.13,690.06 365.13,698.67 365.38,698.67 365.38,707.28 371.11,707.28 371.11,715.89 376.59,715.89 376.59,724.50" fill="none" stroke="#6aa5dc" stroke-width="0.9" stroke-linejoin="miter" stroke-dasharray="0.9 0.9"/>
<polyline points="336.40,638.40 348.82,638.40 348.82,647.01 360.03,647.01 360.03,655.62 360.92,655.62 360.92,664.23 361.56,664.23 361.56,672.84 362.83,672.84 362.83,681.45 363.47,681.45 363.47,690.06 364.11,690.06 364.11,698.67 367.29,698.67 367.29,715.89 391.50,715.89 391.50,724.50" fill="none" stroke="#3a2f9c" stroke-width="1.25" stroke-linejoin="miter" />
<polyline points="336.40,638.40 353.92,638.40 353.92,647.01 356.85,647.01 356.85,655.62 357.48,655.62 357.48,664.23 357.74,664.23 357.74,672.84 358.25,672.84 358.25,681.45 358.76,681.45 358.76,690.06 359.39,690.06 359.39,698.67 360.29,698.67 360.29,707.28 363.47,707.28 363.47,715.89 371.11,715.89 371.11,724.50" fill="none" stroke="#f7941d" stroke-width="1.25" stroke-linejoin="miter" />
<polyline points="336.40,638.40 352.90,638.40 352.90,647.01 355.96,647.01 355.96,655.62 356.46,655.62 356.46,664.23 357.10,664.23 357.10,672.84 357.74,672.84 357.74,681.45 358.76,681.45 358.76,690.06 359.78,690.06 359.78,698.67 360.80,698.67 360.80,707.28 361.82,707.28 361.82,715.89 363.47,715.89 363.47,724.50" fill="none" stroke="#111111" stroke-width="1.25" stroke-linejoin="miter" />
<line x1="490.50" y1="697.47" x2="490.50" y2="698.97" stroke="#231f20" stroke-width="0.7" />
<line x1="336.40" y1="629.30" x2="336.40" y2="724.90" stroke="#231f20" stroke-width="0.8" />
<line x1="336.00" y1="724.50" x2="490.80" y2="724.50" stroke="#231f20" stroke-width="0.8" />
<line x1="332.80" y1="724.50" x2="336.40" y2="724.50" stroke="#231f20" stroke-width="0.8" />
<line x1="334.40" y1="715.89" x2="336.40" y2="715.89" stroke="#231f20" stroke-width="0.7" />
<line x1="334.40" y1="707.28" x2="336.40" y2="707.28" stroke="#231f20" stroke-width="0.7" />
<line x1="334.40" y1="698.67" x2="336.40" y2="698.67" stroke="#231f20" stroke-width="0.7" />
<line x1="334.40" y1="690.06" x2="336.40" y2="690.06" stroke="#231f20" stroke-width="0.7" />
<line x1="332.80" y1="681.45" x2="336.40" y2="681.45" stroke="#231f20" stroke-width="0.8" />
<line x1="334.40" y1="672.84" x2="336.40" y2="672.84" stroke="#231f20" stroke-width="0.7" />
<line x1="334.40" y1="664.23" x2="336.40" y2="664.23" stroke="#231f20" stroke-width="0.7" />
<line x1="334.40" y1="655.62" x2="336.40" y2="655.62" stroke="#231f20" stroke-width="0.7" />
<line x1="334.40" y1="647.01" x2="336.40" y2="647.01" stroke="#231f20" stroke-width="0.7" />
<line x1="332.80" y1="638.40" x2="336.40" y2="638.40" stroke="#231f20" stroke-width="0.8" />
<text x="331.50" y="726.80" font-size="6.5" fill="#231f20" text-anchor="end" stroke="#231f20" stroke-width="0.12" >0</text>
<text x="331.50" y="683.75" font-size="6.5" fill="#231f20" text-anchor="end" stroke="#231f20" stroke-width="0.12" >50</text>
<text x="331.50" y="640.70" font-size="6.5" fill="#231f20" text-anchor="end" stroke="#231f20" stroke-width="0.12" >100</text>
<line x1="336.40" y1="724.50" x2="336.40" y2="727.10" stroke="#231f20" stroke-width="0.8" />
<text x="336.40" y="735.20" font-size="6.5" fill="#231f20" text-anchor="middle" stroke="#231f20" stroke-width="0.12" >0</text>
<line x1="374.92" y1="724.50" x2="374.92" y2="727.10" stroke="#231f20" stroke-width="0.8" />
<text x="374.92" y="735.20" font-size="6.5" fill="#231f20" text-anchor="middle" stroke="#231f20" stroke-width="0.12" >25</text>
<line x1="413.45" y1="724.50" x2="413.45" y2="727.10" stroke="#231f20" stroke-width="0.8" />
<text x="413.45" y="735.20" font-size="6.5" fill="#231f20" text-anchor="middle" stroke="#231f20" stroke-width="0.12" >50</text>
<line x1="451.97" y1="724.50" x2="451.97" y2="727.10" stroke="#231f20" stroke-width="0.8" />
<text x="451.97" y="735.20" font-size="6.5" fill="#231f20" text-anchor="middle" stroke="#231f20" stroke-width="0.12" >75</text>
<line x1="490.50" y1="724.50" x2="490.50" y2="727.10" stroke="#231f20" stroke-width="0.8" />
<text x="490.50" y="735.20" font-size="6.5" fill="#231f20" text-anchor="middle" stroke="#231f20" stroke-width="0.12" >100</text>
<text x="413.40" y="744.50" font-size="6.5" fill="#231f20" text-anchor="middle" stroke="#231f20" stroke-width="0.12" >Days</text>
<text x="316.40" y="677.70" font-size="6.5" fill="#231f20" text-anchor="middle" transform="rotate(-90 316.40 677.70)" stroke="#231f20" stroke-width="0.12" >Percent survival (%)</text>
<text x="419.30" y="649.20" font-size="6.5" fill="#231f20" stroke="#231f20" stroke-width="0.12" >Log-rank test <tspan font-style="italic">P</tspan> &lt; 0.0001</text>
<line x1="310.60" y1="747.90" x2="319.00" y2="747.90" stroke="#111111" stroke-width="1.25" />
<line x1="314.80" y1="746.80" x2="314.80" y2="748.10" stroke="#231f20" stroke-width="0.7" />
<text x="321.20" y="750.40" font-size="6.5" fill="#231f20" stroke="#231f20" stroke-width="0.12" >Vehicle</text>
<line x1="310.60" y1="758.80" x2="319.00" y2="758.80" stroke="#3a2f9c" stroke-width="1.25" />
<line x1="314.80" y1="757.70" x2="314.80" y2="759.00" stroke="#231f20" stroke-width="0.7" />
<text x="321.20" y="761.00" font-size="6.5" fill="#231f20" stroke="#231f20" stroke-width="0.12" >Anti–PD-1, 200 µg, Q3D</text>
<line x1="310.60" y1="769.80" x2="319.00" y2="769.80" stroke="#f7941d" stroke-width="1.25" />
<line x1="314.80" y1="768.70" x2="314.80" y2="770.00" stroke="#231f20" stroke-width="0.7" />
<text x="321.20" y="772.00" font-size="6.5" fill="#231f20" stroke="#231f20" stroke-width="0.12" >Anti-CD8, 250 µg, Q4D</text>
<line x1="310.60" y1="780.60" x2="319.00" y2="780.60" stroke="#3f8f2e" stroke-width="1.25" />
<line x1="314.80" y1="779.50" x2="314.80" y2="780.80" stroke="#231f20" stroke-width="0.7" />
<text x="321.20" y="782.60" font-size="6.5" fill="#231f20" stroke="#231f20" stroke-width="0.12" >PC14374, 150 mg/kg, 2Q7D</text>
<line x1="412.00" y1="760.10" x2="420.80" y2="760.10" stroke="#d9222a" stroke-width="1.25" stroke-dasharray="2.6 1.5"/>
<line x1="416.40" y1="759.00" x2="416.40" y2="760.30" stroke="#231f20" stroke-width="0.7" />
<text x="424.20" y="762.40" font-size="6.5" fill="#231f20" stroke="#231f20" stroke-width="0.12" >PC14374 + anti–PD-1</text>
<line x1="412.00" y1="770.00" x2="420.80" y2="770.00" stroke="#6a2c91" stroke-width="1.25" />
<line x1="416.40" y1="768.90" x2="416.40" y2="770.20" stroke="#231f20" stroke-width="0.7" />
<text x="424.20" y="772.30" font-size="6.5" fill="#231f20" stroke="#231f20" stroke-width="0.12" >PC14374 + anti–PD-1 + anti-CD8</text>
<line x1="412.00" y1="780.40" x2="420.80" y2="780.40" stroke="#6aa5dc" stroke-width="1.25" stroke-dasharray="0.8 1.0"/>
<line x1="416.40" y1="779.30" x2="416.40" y2="780.60" stroke="#231f20" stroke-width="0.7" />
<text x="424.20" y="782.70" font-size="6.5" fill="#231f20" stroke="#231f20" stroke-width="0.12" >PC14374 + anti-CD8</text>
</svg>
</body></html>
